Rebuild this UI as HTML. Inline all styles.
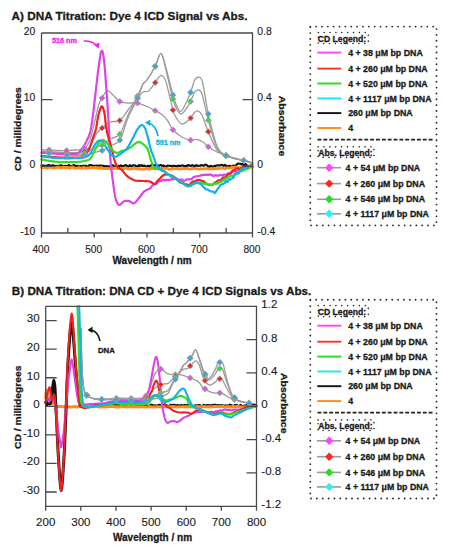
<!DOCTYPE html>
<html><head><meta charset="utf-8"><style>html,body{margin:0;padding:0;background:#fff;width:449px;height:550px;overflow:hidden}svg{display:block}text{font-family:"Liberation Sans",sans-serif}</style></head><body><svg width="449" height="550" viewBox="0 0 449 550">
<rect width="449" height="550" fill="#fff"/>
<path d="M41.50 150.00 C42.75 149.97 46.25 149.72 49.00 149.80 C51.75 149.88 55.05 150.37 58.00 150.50 C60.95 150.63 63.70 150.68 66.70 150.60 C69.70 150.52 73.05 150.38 76.00 150.00 C78.95 149.62 82.07 149.97 84.40 148.30 C86.73 146.63 88.23 144.72 90.00 140.00 C91.77 135.28 93.50 126.00 95.00 120.00 C96.50 114.00 97.82 107.65 99.00 104.00 C100.18 100.35 100.77 100.35 102.10 98.10 C103.43 95.85 105.18 91.02 107.00 90.50 C108.82 89.98 110.87 93.17 113.00 95.00 C115.13 96.83 117.30 100.17 119.80 101.50 C122.30 102.83 125.05 102.73 128.00 103.00 C130.95 103.27 134.50 102.60 137.50 103.10 C140.50 103.60 143.05 104.73 146.00 106.00 C148.95 107.27 152.53 109.28 155.20 110.70 C157.87 112.12 159.95 112.87 162.00 114.50 C164.05 116.13 165.68 117.95 167.50 120.50 C169.32 123.05 170.48 127.05 172.90 129.80 C175.32 132.55 179.05 135.28 182.00 137.00 C184.95 138.72 188.10 139.68 190.60 140.10 C193.10 140.52 194.93 139.18 197.00 139.50 C199.07 139.82 201.12 140.78 203.00 142.00 C204.88 143.22 205.97 145.13 208.30 146.80 C210.63 148.47 214.05 150.53 217.00 152.00 C219.95 153.47 223.00 154.52 226.00 155.60 C229.00 156.68 232.05 157.68 235.00 158.50 C237.95 159.32 240.78 159.75 243.70 160.50 C246.62 161.25 251.03 162.58 252.50 163.00" fill="none" stroke="#9c9c9c" stroke-width="1.3" stroke-linejoin="round" stroke-linecap="round" />
<path d="M41.50 151.50 C42.75 151.50 44.80 151.33 49.00 151.50 C53.20 151.67 60.80 152.50 66.70 152.50 C72.60 152.50 80.18 153.25 84.40 151.50 C88.62 149.75 89.90 145.08 92.00 142.00 C94.10 138.92 95.32 135.32 97.00 133.00 C98.68 130.68 99.93 129.93 102.10 128.10 C104.27 126.27 107.05 123.27 110.00 122.00 C112.95 120.73 116.80 122.50 119.80 120.50 C122.80 118.50 125.05 113.75 128.00 110.00 C130.95 106.25 135.00 101.00 137.50 98.00 C140.00 95.00 141.13 93.17 143.00 92.00 C144.87 90.83 146.67 92.57 148.70 91.00 C150.73 89.43 153.15 85.20 155.20 82.60 C157.25 80.00 159.20 75.50 161.00 75.40 C162.80 75.30 164.02 76.22 166.00 82.00 C167.98 87.78 171.07 103.93 172.90 110.10 C174.73 116.27 175.40 116.68 177.00 119.00 C178.60 121.32 180.23 124.15 182.50 124.00 C184.77 123.85 188.60 120.02 190.60 118.10 C192.60 116.18 193.27 113.68 194.50 112.50 C195.73 111.32 196.75 110.58 198.00 111.00 C199.25 111.42 200.28 111.55 202.00 115.00 C203.72 118.45 205.80 125.87 208.30 131.70 C210.80 137.53 214.05 146.02 217.00 150.00 C219.95 153.98 223.00 154.18 226.00 155.60 C229.00 157.02 232.05 157.68 235.00 158.50 C237.95 159.32 240.78 159.75 243.70 160.50 C246.62 161.25 251.03 162.58 252.50 163.00" fill="none" stroke="#9c9c9c" stroke-width="1.3" stroke-linejoin="round" stroke-linecap="round" />
<path d="M41.50 152.50 C42.75 152.50 44.80 152.25 49.00 152.50 C53.20 152.75 60.80 153.83 66.70 154.00 C72.60 154.17 80.18 154.33 84.40 153.50 C88.62 152.67 89.05 150.38 92.00 149.00 C94.95 147.62 99.10 146.87 102.10 145.20 C105.10 143.53 107.05 140.83 110.00 139.00 C112.95 137.17 116.80 138.20 119.80 134.20 C122.80 130.20 125.05 121.35 128.00 115.00 C130.95 108.65 135.00 101.27 137.50 96.10 C140.00 90.93 141.42 86.68 143.00 84.00 C144.58 81.32 144.97 82.92 147.00 80.00 C149.03 77.08 152.87 70.92 155.20 66.50 C157.53 62.08 159.20 52.92 161.00 53.50 C162.80 54.08 164.02 62.42 166.00 70.00 C167.98 77.58 171.07 92.42 172.90 99.00 C174.73 105.58 175.65 107.00 177.00 109.50 C178.35 112.00 179.67 113.83 181.00 114.00 C182.33 114.17 183.40 112.60 185.00 110.50 C186.60 108.40 189.02 104.40 190.60 101.40 C192.18 98.40 193.23 94.40 194.50 92.50 C195.77 90.60 196.95 89.75 198.20 90.00 C199.45 90.25 200.32 88.97 202.00 94.00 C203.68 99.03 205.80 111.20 208.30 120.20 C210.80 129.20 214.05 142.10 217.00 148.00 C219.95 153.90 223.00 153.85 226.00 155.60 C229.00 157.35 232.05 157.68 235.00 158.50 C237.95 159.32 240.78 159.75 243.70 160.50 C246.62 161.25 251.03 162.58 252.50 163.00" fill="none" stroke="#9c9c9c" stroke-width="1.3" stroke-linejoin="round" stroke-linecap="round" />
<path d="M41.50 153.00 C42.75 153.07 44.80 153.07 49.00 153.40 C53.20 153.73 60.80 154.68 66.70 155.00 C72.60 155.32 80.18 155.63 84.40 155.30 C88.62 154.97 89.05 153.78 92.00 153.00 C94.95 152.22 99.10 151.77 102.10 150.60 C105.10 149.43 107.05 147.73 110.00 146.00 C112.95 144.27 116.80 144.87 119.80 140.20 C122.80 135.53 125.05 124.95 128.00 118.00 C130.95 111.05 135.00 104.17 137.50 98.50 C140.00 92.83 141.42 87.08 143.00 84.00 C144.58 80.92 144.97 82.97 147.00 80.00 C149.03 77.03 152.87 70.65 155.20 66.20 C157.53 61.75 159.20 53.00 161.00 53.30 C162.80 53.60 164.02 61.07 166.00 68.00 C167.98 74.93 171.15 88.65 172.90 94.90 C174.65 101.15 175.27 102.73 176.50 105.50 C177.73 108.27 179.05 111.25 180.30 111.50 C181.55 111.75 182.28 110.18 184.00 107.00 C185.72 103.82 188.85 96.82 190.60 92.40 C192.35 87.98 193.18 83.02 194.50 80.50 C195.82 77.98 197.17 77.05 198.50 77.30 C199.83 77.55 200.87 75.88 202.50 82.00 C204.13 88.12 205.88 103.33 208.30 114.00 C210.72 124.67 214.05 139.07 217.00 146.00 C219.95 152.93 223.00 153.52 226.00 155.60 C229.00 157.68 232.05 157.68 235.00 158.50 C237.95 159.32 240.78 159.75 243.70 160.50 C246.62 161.25 251.03 162.58 252.50 163.00" fill="none" stroke="#9c9c9c" stroke-width="1.3" stroke-linejoin="round" stroke-linecap="round" />
<path d="M41.50 165.38 L42.80 165.87 L44.10 165.59 L45.40 165.97 L46.70 166.00 L48.00 165.10 L49.30 165.02 L50.60 166.34 L51.90 165.41 L53.20 165.37 L54.50 166.59 L55.80 165.75 L57.10 166.34 L58.40 165.76 L59.70 166.02 L61.00 165.24 L62.30 166.02 L63.60 166.39 L64.90 165.84 L66.20 166.19 L67.50 166.07 L68.80 165.10 L70.10 166.21 L71.40 165.95 L72.70 165.48 L74.00 165.05 L75.30 166.38 L76.60 165.76 L77.90 166.15 L79.20 166.41 L80.50 166.14 L81.80 166.47 L83.10 165.63 L84.40 166.28 L85.70 165.71 L87.00 166.50 L88.30 166.41 L89.60 165.16 L90.90 165.22 L92.20 165.35 L93.50 166.54 L94.80 165.70 L96.10 166.00 L97.40 165.48 L98.70 165.81 L100.00 165.62 L101.30 165.56 L102.60 165.94 L103.90 165.93 L105.20 166.45 L106.50 166.09 L107.80 166.49 L109.10 166.37 L110.40 166.59 L111.70 166.07 L113.00 165.26 L114.30 166.38 L115.60 166.54 L116.90 166.45 L118.20 165.91 L119.50 166.14 L120.80 165.34 L122.10 166.33 L123.40 165.92 L124.70 165.46 L126.00 165.10 L127.30 166.37 L128.60 166.58 L129.90 165.14 L131.20 166.28 L132.50 165.66 L133.80 165.24 L135.10 165.47 L136.40 166.23 L137.70 166.40 L139.00 165.07 L140.30 165.98 L141.60 165.07 L142.90 166.15 L144.20 165.53 L145.50 166.41 L146.80 166.57 L148.10 165.81 L149.40 166.60 L150.70 165.50 L152.00 165.12 L153.30 165.96 L154.60 165.05 L155.90 165.32 L157.20 165.65 L158.50 165.98 L159.80 165.25 L161.10 165.07 L162.40 166.39 L163.70 165.50 L165.00 166.53 L166.30 166.43 L167.60 165.60 L168.90 165.74 L170.20 165.83 L171.50 166.03 L172.80 165.95 L174.10 165.89 L175.40 165.99 L176.70 166.50 L178.00 165.81 L179.30 165.69 L180.60 166.15 L181.90 165.38 L183.20 165.48 L184.50 166.56 L185.80 165.83 L187.10 165.88 L188.40 165.02 L189.70 165.66 L191.00 165.93 L192.30 165.03 L193.60 165.99 L194.90 166.01 L196.20 165.10 L197.50 166.00 L198.80 165.75 L200.10 165.69 L201.40 165.01 L202.70 165.53 L204.00 165.64 L205.30 164.66 L206.60 164.95 L207.90 166.19 L209.20 166.89 L210.50 165.92 L211.80 166.33 L213.10 166.51 L214.40 165.94 L215.70 165.79 L217.00 165.45 L218.30 165.30 L219.60 165.47 L220.90 164.89 L222.20 165.02 L223.50 165.77 L224.80 164.77 L226.10 165.89 L227.40 166.41 L228.70 165.94 L230.00 165.93 L231.30 166.88 L232.60 165.89 L233.90 165.63 L235.20 165.78 L236.50 164.74 L237.80 163.56 L239.10 163.77 L240.40 163.73 L241.70 164.59 L243.00 164.12 L244.30 165.02 L245.60 164.07 L246.90 165.54 L248.20 166.04 L249.50 166.42 L250.80 165.72 L252.10 165.36" fill="none" stroke="#111" stroke-width="2.2" stroke-linejoin="round" stroke-linecap="round" />
<path d="M41.50 167.15 L43.00 167.64 L44.50 167.23 L46.00 167.97 L47.50 168.01 L49.00 167.22 L50.50 167.33 L52.00 167.97 L53.50 167.77 L55.00 167.97 L56.50 167.41 L58.00 167.16 L59.50 167.35 L61.00 167.95 L62.50 167.33 L64.00 167.42 L65.50 167.50 L67.00 167.50 L68.50 167.49 L70.00 168.10 L71.50 167.19 L73.00 167.01 L74.50 168.13 L76.00 168.06 L77.50 168.18 L79.00 167.52 L80.50 168.15 L82.00 168.15 L83.50 167.34 L85.00 167.99 L86.50 168.13 L88.00 167.96 L89.50 167.81 L91.00 167.57 L92.50 167.66 L94.00 167.55 L95.50 167.39 L97.00 168.05 L98.50 167.71 L100.00 168.37 L101.50 167.48 L103.00 168.54 L104.50 168.32 L106.00 168.63 L107.50 168.63 L109.00 168.66 L110.50 168.30 L112.00 167.66 L113.50 168.56 L115.00 167.91 L116.50 168.09 L118.00 168.56 L119.50 168.42 L121.00 168.32 L122.50 168.98 L124.00 168.61 L125.50 168.32 L127.00 168.24 L128.50 169.00 L130.00 168.57 L131.50 168.97 L133.00 168.48 L134.50 168.33 L136.00 168.76 L137.50 169.13 L139.00 168.39 L140.50 169.15 L142.00 169.31 L143.50 169.17 L145.00 169.19 L146.50 168.21 L148.00 168.95 L149.50 169.24 L151.00 168.26 L152.50 168.53 L154.00 168.52 L155.50 168.83 L157.00 168.71 L158.50 168.77 L160.00 169.13 L161.50 168.20 L163.00 168.27 L164.50 168.35 L166.00 168.35 L167.50 168.28 L169.00 169.37 L170.50 169.23 L172.00 168.30 L173.50 168.80 L175.00 168.58 L176.50 168.58 L178.00 168.62 L179.50 168.98 L181.00 168.90 L182.50 168.63 L184.00 168.43 L185.50 168.59 L187.00 168.35 L188.50 168.87 L190.00 169.06 L191.50 168.66 L193.00 168.30 L194.50 168.41 L196.00 168.65 L197.50 168.93 L199.00 169.14 L200.50 168.66 L202.00 169.16 L203.50 168.95 L205.00 168.72 L206.50 168.65 L208.00 168.80 L209.50 169.04 L211.00 168.70 L212.50 169.03 L214.00 168.75 L215.50 168.46 L217.00 168.69 L218.50 168.77 L220.00 167.91 L221.50 168.22 L223.00 168.11 L224.50 168.54 L226.00 168.50 L227.50 167.71 L229.00 168.23 L230.50 167.99 L232.00 167.24 L233.50 167.37 L235.00 166.85 L236.50 167.68 L238.00 167.49 L239.50 167.76 L241.00 167.65 L242.50 167.50 L244.00 167.58 L245.50 167.38 L247.00 166.82 L248.50 167.41 L250.00 166.71 L251.50 166.87" fill="none" stroke="#ff8a1a" stroke-width="2.8" stroke-linejoin="round" stroke-linecap="round" />
<path d="M41.50 152.80 L42.63 152.85 L44.22 152.92 L46.08 153.01 L48.07 153.10 L50.00 153.20 L51.58 153.29 L53.22 153.40 L54.91 153.51 L56.61 153.62 L58.32 153.72 L60.00 153.80 L61.69 153.87 L63.41 153.94 L65.12 154.00 L66.81 154.04 L68.45 154.04 L70.00 154.00 L71.76 153.97 L73.45 153.97 L75.05 153.89 L76.57 153.60 L78.00 153.00 L79.34 151.97 L80.60 150.58 L81.77 149.02 L82.84 147.43 L83.80 146.00 L84.78 144.48 L85.56 143.06 L86.26 141.62 L87.00 140.00 L87.65 138.67 L88.30 137.38 L88.95 135.94 L89.59 134.21 L90.20 132.00 L90.50 130.68 L90.79 129.22 L91.09 127.66 L91.37 125.99 L91.66 124.25 L91.94 122.45 L92.21 120.60 L92.48 118.74 L92.74 116.86 L93.00 115.00 L93.21 113.46 L93.40 111.92 L93.59 110.38 L93.77 108.81 L93.95 107.23 L94.12 105.62 L94.30 103.98 L94.49 102.30 L94.67 100.56 L94.87 98.77 L95.08 96.92 L95.30 95.00 L95.48 93.49 L95.66 91.89 L95.85 90.23 L96.04 88.51 L96.24 86.74 L96.44 84.95 L96.65 83.13 L96.86 81.31 L97.07 79.50 L97.28 77.70 L97.48 75.93 L97.69 74.21 L97.90 72.54 L98.10 70.94 L98.30 69.43 L98.50 68.00 L98.81 65.78 L99.12 63.54 L99.43 61.35 L99.74 59.23 L100.04 57.25 L100.35 55.45 L100.64 53.87 L100.94 52.58 L101.22 51.60 L101.50 51.00 L102.03 50.72 L102.52 51.48 L103.00 53.28 L103.49 56.12 L104.00 60.00 L104.13 61.11 L104.26 62.33 L104.39 63.65 L104.52 65.07 L104.66 66.58 L104.80 68.16 L104.94 69.81 L105.08 71.53 L105.22 73.29 L105.36 75.09 L105.49 76.92 L105.63 78.78 L105.77 80.64 L105.91 82.52 L106.04 84.39 L106.18 86.24 L106.31 88.08 L106.43 89.88 L106.56 91.64 L106.68 93.35 L106.80 95.00 L106.92 96.70 L107.04 98.39 L107.16 100.07 L107.27 101.74 L107.39 103.41 L107.50 105.08 L107.61 106.74 L107.71 108.39 L107.82 110.04 L107.93 111.69 L108.03 113.33 L108.13 114.97 L108.23 116.60 L108.33 118.24 L108.43 119.87 L108.52 121.50 L108.62 123.12 L108.71 124.75 L108.81 126.37 L108.90 128.00 L108.99 129.63 L109.07 131.26 L109.15 132.89 L109.22 134.53 L109.30 136.16 L109.36 137.80 L109.43 139.43 L109.49 141.06 L109.56 142.69 L109.63 144.31 L109.69 145.93 L109.76 147.54 L109.83 149.14 L109.91 150.73 L109.99 152.30 L110.08 153.87 L110.17 155.43 L110.27 156.97 L110.38 158.49 L110.50 160.00 L110.65 161.78 L110.82 163.58 L110.99 165.39 L111.18 167.20 L111.38 169.02 L111.58 170.82 L111.79 172.61 L112.01 174.38 L112.22 176.11 L112.43 177.81 L112.65 179.46 L112.86 181.06 L113.06 182.60 L113.26 184.07 L113.45 185.46 L113.63 186.78 L113.80 188.00 L114.17 190.62 L114.49 192.80 L114.78 194.63 L115.07 196.19 L115.35 197.55 L115.66 198.79 L116.00 200.00 L116.94 202.41 L117.97 204.04 L118.90 205.00 L119.93 205.00 L121.00 204.00 L122.45 202.42 L124.30 201.00 L125.95 200.76 L127.83 200.87 L129.60 201.20 L131.10 202.05 L132.49 203.11 L134.00 203.30 L135.30 202.41 L136.69 200.89 L138.09 199.14 L139.40 197.50 L140.57 195.99 L141.65 194.43 L142.73 192.96 L143.90 191.70 L145.45 190.62 L147.10 189.84 L149.30 188.60 L150.51 188.15 L151.85 185.99 L153.31 184.89 L154.85 183.70 L156.44 183.71 L158.07 181.64 L159.70 180.59 L161.34 181.19 L163.01 179.61 L164.72 180.31 L166.47 179.75 L168.26 179.78 L170.11 179.79 L172.00 179.12 L173.52 179.45 L175.09 178.42 L176.69 179.70 L178.33 179.55 L179.98 180.10 L181.64 179.38 L183.30 180.48 L184.96 180.78 L186.60 179.34 L188.22 179.43 L189.81 179.33 L191.40 179.14 L192.99 177.61 L194.59 176.84 L196.21 176.28 L197.86 176.23 L199.56 175.93 L201.30 175.04 L202.94 174.82 L204.66 174.78 L206.43 174.70 L208.24 174.85 L210.06 174.42 L211.86 175.14 L213.63 175.93 L215.34 175.15 L216.97 175.65 L218.50 175.69 L220.50 174.83 L222.35 175.57 L224.07 174.48 L225.73 174.86 L227.35 173.82 L229.00 172.94 L230.70 172.77 L232.25 170.81 L233.83 171.28 L235.43 171.56 L237.02 170.84 L238.59 170.15 L240.12 169.45 L241.60 170.38 L243.00 167.75 L244.86 169.15 L246.73 167.33 L248.52 167.61 L250.14 166.40 L251.50 166.65 L252.50 166.99" fill="none" stroke="#dd44e6" stroke-width="2.2" stroke-linejoin="round" stroke-linecap="round" />
<path d="M41.50 156.00 L42.50 156.09 L43.79 156.20 L45.31 156.34 L47.01 156.50 L48.86 156.66 L50.79 156.84 L52.75 157.00 L54.71 157.16 L56.60 157.30 L58.38 157.41 L60.00 157.50 L61.86 157.57 L63.71 157.61 L65.54 157.63 L67.32 157.63 L69.04 157.62 L70.69 157.59 L72.24 157.56 L73.68 157.53 L75.00 157.50 L77.48 157.49 L79.44 157.50 L81.05 157.38 L82.50 157.00 L84.13 155.96 L85.36 154.54 L86.50 153.00 L87.57 151.67 L88.53 150.22 L89.60 148.00 L90.14 146.61 L90.73 144.94 L91.34 143.08 L91.96 141.16 L92.55 139.27 L93.11 137.51 L93.60 136.00 L94.29 134.06 L94.84 132.62 L95.34 131.12 L95.90 129.00 L96.21 127.55 L96.51 125.87 L96.83 124.03 L97.14 122.11 L97.47 120.17 L97.80 118.29 L98.14 116.54 L98.50 115.00 L99.11 112.67 L99.76 110.40 L100.43 108.42 L101.08 106.97 L101.70 106.30 L102.43 106.72 L103.14 108.23 L103.81 110.45 L104.40 113.00 L104.66 114.43 L104.89 116.10 L105.10 117.94 L105.30 119.86 L105.49 121.80 L105.68 123.68 L105.88 125.44 L106.10 127.00 L106.44 129.08 L106.78 130.85 L107.13 132.48 L107.53 134.14 L108.00 136.00 L108.40 137.47 L108.84 138.99 L109.32 140.56 L109.82 142.17 L110.32 143.82 L110.82 145.50 L111.30 147.20 L111.71 148.77 L112.12 150.45 L112.54 152.18 L112.95 153.92 L113.36 155.63 L113.75 157.24 L114.13 158.71 L114.50 160.00 L115.14 162.04 L115.70 163.58 L116.29 164.84 L117.00 166.00 L118.29 167.40 L119.74 168.53 L121.00 169.50 L122.17 170.49 L123.30 171.60 L124.30 172.90 L125.45 174.46 L127.00 176.00 L128.21 176.91 L129.60 177.86 L131.11 178.77 L132.70 179.58 L134.30 180.20 L135.96 180.58 L137.72 180.78 L139.51 180.86 L141.26 180.91 L142.90 181.00 L144.83 181.10 L146.69 181.16 L148.42 181.26 L150.00 181.50 L151.76 182.52 L153.26 183.54 L154.80 184.13 L156.03 183.41 L157.26 181.14 L158.56 179.86 L160.00 178.69 L161.32 176.94 L162.77 175.58 L164.26 174.68 L165.70 174.71 L167.00 174.26 L168.78 174.83 L170.33 175.49 L172.00 175.61 L173.34 176.39 L174.69 177.51 L176.20 178.50 L178.00 180.41 L179.48 181.50 L181.19 182.57 L183.01 182.63 L184.81 184.47 L186.48 184.35 L187.90 184.88 L189.89 184.89 L191.34 182.60 L193.00 181.39 L194.66 181.81 L196.51 180.31 L198.35 179.91 L200.00 180.12 L201.81 180.93 L203.41 181.15 L205.00 182.75 L206.56 183.87 L208.11 184.79 L210.00 184.57 L211.41 184.72 L212.99 184.54 L214.67 182.77 L216.36 182.00 L218.00 180.43 L219.54 180.30 L221.04 179.97 L222.55 178.03 L224.12 177.38 L225.80 177.33 L227.12 175.13 L228.52 174.29 L229.99 173.80 L231.46 172.69 L232.92 170.37 L234.31 170.48 L235.60 168.57 L237.57 168.27 L239.32 169.16 L241.06 168.06 L243.00 168.50 L244.57 168.71 L246.36 167.49 L248.21 166.57 L249.96 165.26 L251.44 165.27 L252.50 166.25" fill="none" stroke="#ee2222" stroke-width="2.2" stroke-linejoin="round" stroke-linecap="round" />
<path d="M41.50 159.40 L42.63 159.63 L44.22 159.95 L46.08 160.33 L48.07 160.69 L50.00 161.00 L51.52 161.21 L53.04 161.41 L54.59 161.60 L56.24 161.76 L58.03 161.90 L60.00 162.00 L61.48 162.05 L63.11 162.09 L64.85 162.11 L66.65 162.12 L68.47 162.12 L70.26 162.11 L71.97 162.09 L73.57 162.05 L75.00 162.00 L77.23 161.89 L79.16 161.74 L80.88 161.56 L82.46 161.31 L84.00 161.00 L85.80 160.67 L87.41 160.34 L88.92 159.72 L90.40 158.50 L91.26 157.38 L92.10 155.97 L92.94 154.35 L93.75 152.64 L94.54 150.94 L95.29 149.36 L96.00 148.00 L97.13 145.98 L98.15 144.19 L99.09 142.68 L100.00 141.50 L101.68 140.22 L103.20 140.00 L104.62 140.68 L106.00 142.00 L107.32 143.57 L108.90 145.60 L109.99 146.97 L111.23 148.57 L112.51 150.11 L113.70 151.30 L115.70 152.61 L117.70 152.90 L119.29 152.33 L120.97 151.31 L122.50 150.50 L124.24 150.29 L126.00 150.00 L127.56 149.22 L129.28 148.17 L131.00 147.00 L132.27 146.00 L133.56 144.86 L134.82 143.80 L136.00 143.00 L138.00 142.13 L140.00 142.20 L141.67 143.02 L143.44 144.31 L145.00 145.70 L146.19 146.97 L147.15 148.34 L148.00 150.00 L148.56 151.56 L149.04 153.33 L149.50 155.19 L150.00 157.00 L150.57 159.20 L151.17 160.75 L151.76 162.82 L152.30 163.79 L152.79 165.94 L154.00 167.83 L155.09 169.01 L156.42 168.00 L158.01 168.94 L159.86 169.01 L162.00 170.70 L163.10 170.70 L164.33 171.41 L165.65 172.37 L167.04 173.50 L168.48 174.82 L169.94 175.20 L171.40 176.95 L172.85 176.84 L174.24 178.02 L175.57 178.63 L176.80 179.42 L178.59 181.55 L180.28 182.59 L181.88 182.83 L183.43 183.79 L184.93 184.92 L186.41 186.01 L187.90 186.47 L189.61 186.35 L191.26 185.66 L192.88 184.28 L194.48 183.88 L196.08 182.91 L197.70 183.04 L199.36 183.05 L201.06 182.63 L202.76 182.95 L204.42 184.03 L206.01 183.15 L207.50 184.45 L209.47 184.71 L211.22 184.87 L212.94 183.96 L214.80 183.88 L216.42 183.41 L218.09 183.65 L219.81 181.68 L221.58 181.80 L223.40 179.97 L224.96 178.81 L226.58 178.15 L228.23 177.23 L229.89 176.26 L231.55 175.36 L233.20 176.55 L234.84 174.24 L236.48 174.35 L238.12 173.18 L239.76 171.03 L241.38 171.41 L243.00 170.57 L244.71 169.74 L246.54 169.14 L248.36 168.59 L250.05 166.66 L251.47 167.23 L252.50 167.64" fill="none" stroke="#33dd22" stroke-width="2.2" stroke-linejoin="round" stroke-linecap="round" />
<path d="M41.50 156.00 L42.63 156.22 L44.22 156.53 L46.08 156.89 L48.07 157.23 L50.00 157.50 L51.52 157.67 L53.04 157.82 L54.59 157.94 L56.24 158.05 L58.03 158.13 L60.00 158.20 L61.48 158.23 L63.11 158.26 L64.85 158.28 L66.65 158.29 L68.47 158.29 L70.26 158.28 L71.97 158.26 L73.57 158.23 L75.00 158.20 L77.24 158.14 L79.20 158.08 L80.93 157.98 L82.51 157.80 L84.00 157.50 L86.15 156.89 L87.92 156.02 L89.60 154.50 L90.47 153.30 L91.32 151.79 L92.16 150.12 L92.96 148.43 L93.71 146.87 L94.40 145.60 L95.58 143.76 L96.57 142.46 L97.50 141.50 L98.79 140.68 L100.00 140.50 L101.21 140.63 L102.50 141.50 L103.42 142.76 L104.41 144.44 L105.60 146.40 L106.48 147.77 L107.47 149.34 L108.52 150.96 L109.55 152.46 L110.50 153.70 L111.92 155.24 L113.24 156.33 L114.50 156.90 L116.27 156.56 L118.00 155.50 L119.86 154.26 L121.70 152.90 L123.39 151.76 L125.00 150.50 L126.39 149.16 L128.00 147.00 L128.73 145.81 L129.56 144.37 L130.44 142.78 L131.33 141.13 L132.20 139.51 L133.00 138.00 L133.86 136.29 L134.65 134.58 L135.41 132.94 L136.18 131.39 L137.00 130.00 L138.11 128.35 L139.28 126.81 L140.43 125.62 L141.50 125.00 L143.34 125.56 L145.00 128.00 L145.53 129.24 L146.04 130.74 L146.53 132.44 L147.02 134.26 L147.51 136.14 L148.00 138.00 L148.42 139.62 L148.83 141.31 L149.23 143.06 L149.64 144.82 L150.07 147.13 L150.52 148.23 L151.00 150.39 L151.53 151.65 L152.10 152.78 L152.70 154.36 L153.30 156.05 L153.90 157.80 L154.47 159.19 L155.00 161.00 L155.80 163.21 L156.50 164.54 L157.20 165.69 L158.00 167.22 L159.11 167.96 L160.33 169.14 L162.00 170.69 L163.36 171.00 L164.97 171.59 L166.69 173.63 L168.41 174.35 L170.00 174.80 L171.46 175.82 L172.88 177.12 L174.25 178.27 L175.56 178.71 L176.80 179.25 L178.63 180.70 L180.27 182.48 L182.00 182.47 L183.47 183.83 L185.02 184.41 L186.54 185.27 L187.90 185.71 L189.96 185.81 L192.00 184.50 L193.83 183.37 L195.84 182.43 L197.70 182.10 L199.19 183.27 L200.53 183.95 L202.00 185.28 L203.25 186.92 L204.56 187.92 L205.97 189.40 L207.50 189.33 L209.29 190.70 L211.29 191.51 L213.22 191.54 L214.80 193.10 L216.52 190.75 L218.00 188.39 L219.09 187.11 L220.29 185.13 L221.69 184.50 L223.40 183.91 L224.57 183.17 L225.88 180.52 L227.29 182.17 L228.77 179.30 L230.27 179.68 L231.76 178.34 L233.20 178.02 L234.60 173.99 L236.01 173.37 L237.42 172.91 L238.82 173.36 L240.22 170.12 L241.62 169.17 L243.00 169.16 L244.71 167.56 L246.54 167.85 L248.36 166.51 L250.05 165.84 L251.47 165.99 L252.50 164.07" fill="none" stroke="#18aee8" stroke-width="2.2" stroke-linejoin="round" stroke-linecap="round" />
<path d="M49.00 146.90 L51.90 149.80 L49.00 152.70 L46.10 149.80 Z" fill="#dd55ee" stroke="#a0a0a0" stroke-width="1.0"/>
<path d="M66.70 147.70 L69.60 150.60 L66.70 153.50 L63.80 150.60 Z" fill="#dd55ee" stroke="#a0a0a0" stroke-width="1.0"/>
<path d="M84.40 145.40 L87.30 148.30 L84.40 151.20 L81.50 148.30 Z" fill="#dd55ee" stroke="#a0a0a0" stroke-width="1.0"/>
<path d="M102.10 95.20 L105.00 98.10 L102.10 101.00 L99.20 98.10 Z" fill="#dd55ee" stroke="#a0a0a0" stroke-width="1.0"/>
<path d="M119.80 98.60 L122.70 101.50 L119.80 104.40 L116.90 101.50 Z" fill="#dd55ee" stroke="#a0a0a0" stroke-width="1.0"/>
<path d="M137.50 100.20 L140.40 103.10 L137.50 106.00 L134.60 103.10 Z" fill="#dd55ee" stroke="#a0a0a0" stroke-width="1.0"/>
<path d="M155.20 107.80 L158.10 110.70 L155.20 113.60 L152.30 110.70 Z" fill="#dd55ee" stroke="#a0a0a0" stroke-width="1.0"/>
<path d="M172.90 126.90 L175.80 129.80 L172.90 132.70 L170.00 129.80 Z" fill="#dd55ee" stroke="#a0a0a0" stroke-width="1.0"/>
<path d="M190.60 137.20 L193.50 140.10 L190.60 143.00 L187.70 140.10 Z" fill="#dd55ee" stroke="#a0a0a0" stroke-width="1.0"/>
<path d="M208.30 143.90 L211.20 146.80 L208.30 149.70 L205.40 146.80 Z" fill="#dd55ee" stroke="#a0a0a0" stroke-width="1.0"/>
<path d="M226.00 152.70 L228.90 155.60 L226.00 158.50 L223.10 155.60 Z" fill="#dd55ee" stroke="#a0a0a0" stroke-width="1.0"/>
<path d="M243.70 157.60 L246.60 160.50 L243.70 163.40 L240.80 160.50 Z" fill="#dd55ee" stroke="#a0a0a0" stroke-width="1.0"/>
<path d="M49.00 148.60 L51.90 151.50 L49.00 154.40 L46.10 151.50 Z" fill="#ee2222" stroke="#a0a0a0" stroke-width="1.0"/>
<path d="M66.70 149.60 L69.60 152.50 L66.70 155.40 L63.80 152.50 Z" fill="#ee2222" stroke="#a0a0a0" stroke-width="1.0"/>
<path d="M84.40 148.60 L87.30 151.50 L84.40 154.40 L81.50 151.50 Z" fill="#ee2222" stroke="#a0a0a0" stroke-width="1.0"/>
<path d="M102.10 125.20 L105.00 128.10 L102.10 131.00 L99.20 128.10 Z" fill="#ee2222" stroke="#a0a0a0" stroke-width="1.0"/>
<path d="M119.80 117.60 L122.70 120.50 L119.80 123.40 L116.90 120.50 Z" fill="#ee2222" stroke="#a0a0a0" stroke-width="1.0"/>
<path d="M137.50 95.10 L140.40 98.00 L137.50 100.90 L134.60 98.00 Z" fill="#ee2222" stroke="#a0a0a0" stroke-width="1.0"/>
<path d="M155.20 79.70 L158.10 82.60 L155.20 85.50 L152.30 82.60 Z" fill="#ee2222" stroke="#a0a0a0" stroke-width="1.0"/>
<path d="M172.90 107.20 L175.80 110.10 L172.90 113.00 L170.00 110.10 Z" fill="#ee2222" stroke="#a0a0a0" stroke-width="1.0"/>
<path d="M190.60 115.20 L193.50 118.10 L190.60 121.00 L187.70 118.10 Z" fill="#ee2222" stroke="#a0a0a0" stroke-width="1.0"/>
<path d="M208.30 128.80 L211.20 131.70 L208.30 134.60 L205.40 131.70 Z" fill="#ee2222" stroke="#a0a0a0" stroke-width="1.0"/>
<path d="M226.00 152.70 L228.90 155.60 L226.00 158.50 L223.10 155.60 Z" fill="#ee2222" stroke="#a0a0a0" stroke-width="1.0"/>
<path d="M243.70 157.60 L246.60 160.50 L243.70 163.40 L240.80 160.50 Z" fill="#ee2222" stroke="#a0a0a0" stroke-width="1.0"/>
<path d="M49.00 149.60 L51.90 152.50 L49.00 155.40 L46.10 152.50 Z" fill="#33dd33" stroke="#a0a0a0" stroke-width="1.0"/>
<path d="M66.70 151.10 L69.60 154.00 L66.70 156.90 L63.80 154.00 Z" fill="#33dd33" stroke="#a0a0a0" stroke-width="1.0"/>
<path d="M84.40 150.60 L87.30 153.50 L84.40 156.40 L81.50 153.50 Z" fill="#33dd33" stroke="#a0a0a0" stroke-width="1.0"/>
<path d="M102.10 142.30 L105.00 145.20 L102.10 148.10 L99.20 145.20 Z" fill="#33dd33" stroke="#a0a0a0" stroke-width="1.0"/>
<path d="M119.80 131.30 L122.70 134.20 L119.80 137.10 L116.90 134.20 Z" fill="#33dd33" stroke="#a0a0a0" stroke-width="1.0"/>
<path d="M137.50 93.20 L140.40 96.10 L137.50 99.00 L134.60 96.10 Z" fill="#33dd33" stroke="#a0a0a0" stroke-width="1.0"/>
<path d="M155.20 63.60 L158.10 66.50 L155.20 69.40 L152.30 66.50 Z" fill="#33dd33" stroke="#a0a0a0" stroke-width="1.0"/>
<path d="M172.90 96.10 L175.80 99.00 L172.90 101.90 L170.00 99.00 Z" fill="#33dd33" stroke="#a0a0a0" stroke-width="1.0"/>
<path d="M190.60 98.50 L193.50 101.40 L190.60 104.30 L187.70 101.40 Z" fill="#33dd33" stroke="#a0a0a0" stroke-width="1.0"/>
<path d="M208.30 117.30 L211.20 120.20 L208.30 123.10 L205.40 120.20 Z" fill="#33dd33" stroke="#a0a0a0" stroke-width="1.0"/>
<path d="M226.00 152.70 L228.90 155.60 L226.00 158.50 L223.10 155.60 Z" fill="#33dd33" stroke="#a0a0a0" stroke-width="1.0"/>
<path d="M243.70 157.60 L246.60 160.50 L243.70 163.40 L240.80 160.50 Z" fill="#33dd33" stroke="#a0a0a0" stroke-width="1.0"/>
<path d="M49.00 150.50 L51.90 153.40 L49.00 156.30 L46.10 153.40 Z" fill="#33a8e0" stroke="#a0a0a0" stroke-width="1.0"/>
<path d="M66.70 152.10 L69.60 155.00 L66.70 157.90 L63.80 155.00 Z" fill="#33a8e0" stroke="#a0a0a0" stroke-width="1.0"/>
<path d="M84.40 152.40 L87.30 155.30 L84.40 158.20 L81.50 155.30 Z" fill="#33a8e0" stroke="#a0a0a0" stroke-width="1.0"/>
<path d="M102.10 147.70 L105.00 150.60 L102.10 153.50 L99.20 150.60 Z" fill="#33a8e0" stroke="#a0a0a0" stroke-width="1.0"/>
<path d="M119.80 137.30 L122.70 140.20 L119.80 143.10 L116.90 140.20 Z" fill="#33a8e0" stroke="#a0a0a0" stroke-width="1.0"/>
<path d="M137.50 95.60 L140.40 98.50 L137.50 101.40 L134.60 98.50 Z" fill="#33a8e0" stroke="#a0a0a0" stroke-width="1.0"/>
<path d="M155.20 63.30 L158.10 66.20 L155.20 69.10 L152.30 66.20 Z" fill="#33a8e0" stroke="#a0a0a0" stroke-width="1.0"/>
<path d="M172.90 92.00 L175.80 94.90 L172.90 97.80 L170.00 94.90 Z" fill="#33a8e0" stroke="#a0a0a0" stroke-width="1.0"/>
<path d="M190.60 89.50 L193.50 92.40 L190.60 95.30 L187.70 92.40 Z" fill="#33a8e0" stroke="#a0a0a0" stroke-width="1.0"/>
<path d="M208.30 111.10 L211.20 114.00 L208.30 116.90 L205.40 114.00 Z" fill="#33a8e0" stroke="#a0a0a0" stroke-width="1.0"/>
<path d="M226.00 152.70 L228.90 155.60 L226.00 158.50 L223.10 155.60 Z" fill="#33a8e0" stroke="#a0a0a0" stroke-width="1.0"/>
<path d="M243.70 157.60 L246.60 160.50 L243.70 163.40 L240.80 160.50 Z" fill="#33a8e0" stroke="#a0a0a0" stroke-width="1.0"/>
<path d="M41.5 33.0 H252.5 V237.5" fill="none" stroke="#4a4a4a" stroke-width="1.3"/>
<path d="M41.5 33.0 V237.5 H41.5" fill="none" stroke="#4a4a4a" stroke-width="1.3"/>
<path d="M41.5 233.0 H252.5" fill="none" stroke="#4a4a4a" stroke-width="1.3"/>
<path d="M41.50 99.67 h11 M41.50 166.33 h11 M252.50 99.67 h-10 M252.50 166.33 h-10 M94.25 233.00 v4.5 M147.00 233.00 v4.5 M199.75 233.00 v4.5 M67.88 233.00 v-5 M120.62 233.00 v-5 M173.38 233.00 v-5 M226.12 233.00 v-5 " fill="none" stroke="#4a4a4a" stroke-width="1.3"/>
<text x="11.6" y="19.5" font-size="11.75" font-weight="bold" text-anchor="start" fill="#1a1a1a" stroke="#1a1a1a" stroke-width="0.3">A) DNA Titration: Dye 4 ICD Signal vs Abs.</text>
<text x="35.4" y="34.7" font-size="10.4" font-weight="normal" text-anchor="end" fill="#1a1a1a" stroke="#1a1a1a" stroke-width="0.12">20</text>
<text x="35.4" y="101.36666666666669" font-size="10.4" font-weight="normal" text-anchor="end" fill="#1a1a1a" stroke="#1a1a1a" stroke-width="0.12">10</text>
<text x="35.4" y="168.03333333333333" font-size="10.4" font-weight="normal" text-anchor="end" fill="#1a1a1a" stroke="#1a1a1a" stroke-width="0.12">0</text>
<text x="35.4" y="234.7" font-size="10.4" font-weight="normal" text-anchor="end" fill="#1a1a1a" stroke="#1a1a1a" stroke-width="0.12">-10</text>
<text x="257.3" y="34.7" font-size="10.4" font-weight="normal" text-anchor="start" fill="#1a1a1a" stroke="#1a1a1a" stroke-width="0.12">0.8</text>
<text x="257.3" y="101.36666666666669" font-size="10.4" font-weight="normal" text-anchor="start" fill="#1a1a1a" stroke="#1a1a1a" stroke-width="0.12">0.4</text>
<text x="257.3" y="168.03333333333333" font-size="10.4" font-weight="normal" text-anchor="start" fill="#1a1a1a" stroke="#1a1a1a" stroke-width="0.12">0</text>
<text x="257.3" y="234.7" font-size="10.4" font-weight="normal" text-anchor="start" fill="#1a1a1a" stroke="#1a1a1a" stroke-width="0.12">-0.4</text>
<text x="40.9" y="253.3" font-size="10.2" font-weight="normal" text-anchor="middle" fill="#1a1a1a" stroke="#1a1a1a" stroke-width="0.12">400</text>
<text x="93.65" y="253.3" font-size="10.2" font-weight="normal" text-anchor="middle" fill="#1a1a1a" stroke="#1a1a1a" stroke-width="0.12">500</text>
<text x="146.4" y="253.3" font-size="10.2" font-weight="normal" text-anchor="middle" fill="#1a1a1a" stroke="#1a1a1a" stroke-width="0.12">600</text>
<text x="199.15" y="253.3" font-size="10.2" font-weight="normal" text-anchor="middle" fill="#1a1a1a" stroke="#1a1a1a" stroke-width="0.12">700</text>
<text x="251.9" y="253.3" font-size="10.2" font-weight="normal" text-anchor="middle" fill="#1a1a1a" stroke="#1a1a1a" stroke-width="0.12">800</text>
<text x="152.1" y="264" font-size="10" font-weight="bold" text-anchor="middle" fill="#1a1a1a" stroke="#1a1a1a" stroke-width="0.3">Wavelength / nm</text>
<text x="0" y="0" font-size="10.35" font-weight="bold" text-anchor="middle" fill="#1a1a1a" transform="translate(20.9 129.2) rotate(-90) scale(1 0.9)" stroke="#1a1a1a" stroke-width="0.3">CD / millidegrees</text>
<text x="0" y="0" font-size="10.5" font-weight="bold" text-anchor="middle" fill="#1a1a1a" transform="translate(278.5 126) rotate(90) scale(1 0.9)" stroke="#1a1a1a" stroke-width="0.3">Absorbance</text>
<text x="51.9" y="43.2" font-size="7.3" font-weight="bold" text-anchor="start" fill="#f02cf0" stroke="#f02cf0" stroke-width="0.35">516 nm</text>
<path d="M83.8 41.1 C88 40.8 92.5 41.8 96 45" fill="none" stroke="#ee22ee" stroke-width="1.6"/>
<path d="M93.6 44.6 L99.6 42.8 L98.7 48.6 Z" fill="#ee22ee"/>
<text x="155.7" y="145.1" font-size="7.2" font-weight="bold" text-anchor="start" fill="#12b8e2" stroke="#12b8e2" stroke-width="0.35">591 nm</text>
<path d="M158 136 C157 130 154 125 149 123" fill="none" stroke="#12b0e6" stroke-width="1.8"/>
<path d="M145 122.5 L150.5 119.5 L150 126 Z" fill="#12b0e6"/>
<path d="M81.00 329.00 C81.07 332.50 81.23 343.17 81.40 350.00 C81.57 356.83 81.65 363.83 82.00 370.00 C82.35 376.17 82.92 383.00 83.50 387.00 C84.08 391.00 84.75 392.42 85.50 394.00 C86.25 395.58 86.42 395.67 88.00 396.50 C89.58 397.33 92.17 398.50 95.00 399.00 C97.83 399.50 101.51 399.64 105.00 399.50 C108.49 399.36 113.31 398.38 115.97 398.13 C118.63 397.89 119.13 397.99 120.96 398.03 C122.79 398.08 124.99 398.32 126.96 398.38 C128.92 398.45 130.75 398.48 132.75 398.43 C134.75 398.39 136.98 398.32 138.94 398.13 C140.91 397.94 142.99 398.12 144.54 397.28 C146.09 396.45 147.09 395.49 148.27 393.13 C149.45 390.77 150.60 386.13 151.60 383.13 C152.60 380.13 153.48 376.96 154.26 375.13 C155.05 373.31 155.44 373.31 156.33 372.18 C157.22 371.06 158.38 368.64 159.59 368.38 C160.80 368.12 162.17 369.72 163.59 370.63 C165.01 371.55 166.45 373.22 168.12 373.88 C169.78 374.55 171.61 374.50 173.58 374.63 C175.54 374.77 177.91 374.43 179.91 374.68 C181.90 374.93 183.60 375.50 185.57 376.13 C187.53 376.77 189.92 377.78 191.69 378.48 C193.47 379.19 194.86 379.57 196.22 380.38 C197.59 381.20 198.68 382.11 199.89 383.38 C201.10 384.66 201.87 386.66 203.48 388.03 C205.09 389.41 207.58 390.77 209.54 391.63 C211.51 392.49 213.61 392.98 215.27 393.18 C216.94 393.39 218.16 392.73 219.54 392.88 C220.91 393.04 222.28 393.52 223.53 394.13 C224.79 394.74 225.51 395.70 227.06 396.53 C228.62 397.37 230.89 398.40 232.86 399.13 C234.82 399.87 236.85 400.39 238.85 400.93 C240.85 401.48 242.88 401.98 244.84 402.38 C246.81 402.79 248.70 403.01 250.64 403.38 C252.58 403.76 255.52 404.43 256.50 404.63" fill="none" stroke="#9c9c9c" stroke-width="1.3" stroke-linejoin="round" stroke-linecap="round" />
<path d="M81.00 329.00 C81.07 332.50 81.23 343.17 81.40 350.00 C81.57 356.83 81.65 363.83 82.00 370.00 C82.35 376.17 82.92 383.00 83.50 387.00 C84.08 391.00 84.75 392.42 85.50 394.00 C86.25 395.58 86.42 395.67 88.00 396.50 C89.58 397.33 92.17 398.50 95.00 399.00 C97.83 399.50 101.51 399.52 105.00 399.50 C108.49 399.48 113.31 398.99 115.97 398.88 C118.63 398.78 118.16 398.80 120.96 398.88 C123.76 398.97 128.82 399.38 132.75 399.38 C136.68 399.38 141.73 399.76 144.54 398.88 C147.35 398.01 148.20 395.68 149.60 394.13 C151.00 392.59 151.81 390.79 152.93 389.63 C154.05 388.48 154.89 388.10 156.33 387.18 C157.77 386.27 159.63 384.77 161.59 384.13 C163.55 383.50 166.12 384.38 168.12 383.38 C170.12 382.38 171.61 380.01 173.58 378.13 C175.54 376.26 178.24 373.63 179.91 372.13 C181.57 370.63 182.33 369.72 183.57 369.13 C184.81 368.55 186.01 369.42 187.37 368.63 C188.72 367.85 190.33 365.73 191.69 364.43 C193.06 363.13 194.36 360.88 195.56 360.83 C196.76 360.78 197.57 361.24 198.89 364.13 C200.21 367.02 202.26 375.10 203.48 378.18 C204.70 381.27 205.15 381.48 206.21 382.63 C207.28 383.79 208.37 385.21 209.88 385.13 C211.39 385.06 213.94 383.14 215.27 382.18 C216.60 381.23 217.05 379.98 217.87 379.38 C218.69 378.79 219.37 378.43 220.20 378.63 C221.03 378.84 221.72 378.91 222.87 380.63 C224.01 382.36 225.40 386.07 227.06 388.98 C228.73 391.90 230.89 396.14 232.86 398.13 C234.82 400.12 236.85 400.23 238.85 400.93 C240.85 401.64 242.88 401.98 244.84 402.38 C246.81 402.79 248.70 403.01 250.64 403.38 C252.58 403.76 255.52 404.43 256.50 404.63" fill="none" stroke="#9c9c9c" stroke-width="1.3" stroke-linejoin="round" stroke-linecap="round" />
<path d="M81.00 329.00 C81.07 332.50 81.23 343.17 81.40 350.00 C81.57 356.83 81.65 363.83 82.00 370.00 C82.35 376.17 82.92 383.00 83.50 387.00 C84.08 391.00 84.75 392.42 85.50 394.00 C86.25 395.58 86.42 395.67 88.00 396.50 C89.58 397.33 92.17 398.50 95.00 399.00 C97.83 399.50 101.51 399.44 105.00 399.50 C108.49 399.56 113.31 399.40 115.97 399.38 C118.63 399.36 118.16 399.26 120.96 399.38 C123.76 399.51 128.82 400.05 132.75 400.13 C136.68 400.22 141.73 400.30 144.54 399.88 C147.35 399.47 147.64 398.32 149.60 397.63 C151.57 396.94 154.33 396.57 156.33 395.73 C158.33 394.90 159.63 393.55 161.59 392.63 C163.55 391.72 166.12 392.23 168.12 390.23 C170.12 388.23 171.61 383.81 173.58 380.63 C175.54 377.46 178.24 373.77 179.91 371.18 C181.57 368.60 182.51 366.48 183.57 365.13 C184.62 363.79 184.88 364.59 186.23 363.13 C187.59 361.68 190.14 358.59 191.69 356.38 C193.25 354.18 194.36 349.59 195.56 349.88 C196.76 350.18 197.57 354.34 198.89 358.13 C200.21 361.93 202.26 369.34 203.48 372.63 C204.70 375.93 205.32 376.63 206.21 377.88 C207.11 379.13 207.99 380.05 208.88 380.13 C209.77 380.22 210.48 379.43 211.54 378.38 C212.61 377.33 214.22 375.33 215.27 373.83 C216.33 372.33 217.03 370.33 217.87 369.38 C218.71 368.43 219.50 368.01 220.33 368.13 C221.17 368.26 221.74 367.62 222.87 370.13 C223.99 372.65 225.40 378.73 227.06 383.23 C228.73 387.73 230.89 394.18 232.86 397.13 C234.82 400.08 236.85 400.06 238.85 400.93 C240.85 401.81 242.88 401.98 244.84 402.38 C246.81 402.79 248.70 403.01 250.64 403.38 C252.58 403.76 255.52 404.43 256.50 404.63" fill="none" stroke="#9c9c9c" stroke-width="1.3" stroke-linejoin="round" stroke-linecap="round" />
<path d="M81.00 329.00 C81.07 332.50 81.23 343.17 81.40 350.00 C81.57 356.83 81.65 363.83 82.00 370.00 C82.35 376.17 82.92 383.00 83.50 387.00 C84.08 391.00 84.75 392.42 85.50 394.00 C86.25 395.58 86.42 395.67 88.00 396.50 C89.58 397.33 92.17 398.50 95.00 399.00 C97.83 399.50 101.51 399.39 105.00 399.50 C108.49 399.61 113.31 399.58 115.97 399.63 C118.63 399.69 118.16 399.67 120.96 399.83 C123.76 400.00 128.82 400.48 132.75 400.63 C136.68 400.79 141.73 400.95 144.54 400.78 C147.35 400.62 147.64 400.02 149.60 399.63 C151.57 399.24 154.33 399.02 156.33 398.43 C158.33 397.85 159.63 397.00 161.59 396.13 C163.55 395.27 166.12 395.57 168.12 393.23 C170.12 390.90 171.61 385.61 173.58 382.13 C175.54 378.66 178.24 375.22 179.91 372.38 C181.57 369.55 182.51 366.68 183.57 365.13 C184.62 363.59 184.88 364.62 186.23 363.13 C187.59 361.65 190.14 358.46 191.69 356.23 C193.25 354.01 194.36 349.63 195.56 349.78 C196.76 349.93 197.57 353.67 198.89 357.13 C200.21 360.60 202.32 367.46 203.48 370.58 C204.65 373.71 205.06 374.50 205.88 375.88 C206.70 377.27 207.58 378.76 208.41 378.88 C209.24 379.01 209.73 378.22 210.88 376.63 C212.02 375.04 214.11 371.54 215.27 369.33 C216.44 367.13 216.99 364.64 217.87 363.38 C218.75 362.12 219.65 361.66 220.53 361.78 C221.42 361.91 222.11 361.07 223.20 364.13 C224.29 367.19 225.45 374.80 227.06 380.13 C228.67 385.47 230.89 392.67 232.86 396.13 C234.82 399.60 236.85 399.89 238.85 400.93 C240.85 401.98 242.88 401.98 244.84 402.38 C246.81 402.79 248.70 403.01 250.64 403.38 C252.58 403.76 255.52 404.43 256.50 404.63" fill="none" stroke="#9c9c9c" stroke-width="1.3" stroke-linejoin="round" stroke-linecap="round" />
<path d="M81.00 405.23 L82.40 405.38 L83.80 405.89 L85.20 405.25 L86.60 405.31 L88.00 405.42 L89.40 404.86 L90.80 405.32 L92.20 405.48 L93.60 405.71 L95.00 404.73 L96.40 405.02 L97.80 404.73 L99.20 405.73 L100.60 405.57 L102.00 404.66 L103.40 405.98 L104.80 405.95 L106.20 405.52 L107.60 405.46 L109.00 404.82 L110.40 404.62 L111.80 405.34 L113.20 404.68 L114.60 404.87 L116.00 404.94 L117.40 404.64 L118.80 405.25 L120.20 405.22 L121.60 405.78 L123.00 405.33 L124.40 405.50 L125.80 405.30 L127.20 405.53 L128.60 405.24 L130.00 404.99 L131.40 406.00 L132.80 405.99 L134.20 405.78 L135.60 405.59 L137.00 405.04 L138.40 404.92 L139.80 405.00 L141.20 404.70 L142.60 405.67 L144.00 405.16 L145.40 405.79 L146.80 405.14 L148.20 405.94 L149.60 405.79 L151.00 404.60 L152.40 404.89 L153.80 405.87 L155.20 405.26 L156.60 405.97 L158.00 405.16 L159.40 404.70 L160.80 405.48 L162.20 405.69 L163.60 404.98 L165.00 404.72 L166.40 405.07 L167.80 405.95 L169.20 405.66 L170.60 404.77 L172.00 404.94 L173.40 404.74 L174.80 404.68 L176.20 405.72 L177.60 404.85 L179.00 405.38 L180.40 405.23 L181.80 404.87 L183.20 405.62 L184.60 404.78 L186.00 405.50 L187.40 404.76 L188.80 405.19 L190.20 404.90 L191.60 404.98 L193.00 405.96 L194.40 405.72 L195.80 405.03 L197.20 405.84 L198.60 404.89 L200.00 405.15 L201.40 405.80 L202.80 405.50 L204.20 404.74 L205.60 405.99 L207.00 404.90 L208.40 404.96 L209.80 405.68 L211.20 405.06 L212.60 405.01 L214.00 404.70 L215.40 404.73 L216.80 405.42 L218.20 404.94 L219.60 405.44 L221.00 405.12 L222.40 405.23 L223.80 405.94 L225.20 405.28 L226.60 405.40 L228.00 405.81 L229.40 404.86 L230.80 404.82 L232.20 405.87 L233.60 405.74 L235.00 404.95 L236.40 404.87 L237.80 405.64 L239.20 405.92 L240.60 404.88 L242.00 405.93 L243.40 405.84 L244.80 405.44 L246.20 405.19 L247.60 404.75 L249.00 404.65 L250.40 405.95 L251.80 404.93 L253.20 405.59 L254.60 404.96 L256.00 405.75" fill="none" stroke="#111" stroke-width="2.0" stroke-linejoin="round" stroke-linecap="round" />
<path d="M45.70 398.00 L46.50 390.00 L48.00 395.00 L50.00 402.00 L52.00 404.00 L53.50 399.00 L55.00 404.00 L56.50 406.60 L57.00 406.76 L59.00 406.58 L61.00 406.51 L63.00 406.83 L65.00 406.44 L67.00 406.54 L69.00 406.74 L71.00 406.91 L73.00 406.77 L75.00 406.57 L77.00 406.95 L79.00 406.52 L81.00 406.41 L83.00 406.56 L85.00 406.67 L87.00 406.44 L89.00 406.51 L91.00 406.62 L93.00 406.74 L95.00 406.48 L97.00 406.62 L99.00 406.93 L101.00 406.99 L103.00 406.79 L105.00 406.81 L107.00 406.75 L109.00 406.48 L111.00 406.42 L113.00 406.41 L115.00 406.95 L117.00 406.82 L119.00 406.98 L121.00 406.41 L123.00 406.78 L125.00 406.69 L127.00 406.84 L129.00 406.59 L131.00 407.00 L133.00 406.45 L135.00 406.73 L137.00 406.84 L139.00 406.94 L141.00 406.84 L143.00 406.82 L145.00 406.88 L147.00 406.95 L149.00 406.61 L151.00 406.81 L153.00 406.94 L155.00 406.92 L157.00 406.65 L159.00 406.87 L161.00 406.92 L163.00 406.74 L165.00 406.77 L167.00 406.63 L169.00 406.75 L171.00 406.77 L173.00 406.45 L175.00 406.78 L177.00 407.00 L179.00 406.93 L181.00 406.84 L183.00 406.63 L185.00 406.84 L187.00 406.75 L189.00 406.66 L191.00 406.90 L193.00 406.45 L195.00 406.85 L197.00 406.42 L199.00 406.76 L201.00 406.69 L203.00 406.54 L205.00 406.82 L207.00 406.70 L209.00 406.77 L211.00 406.95 L213.00 406.55 L215.00 406.41 L217.00 406.58 L219.00 406.81 L221.00 406.52 L223.00 406.50 L225.00 406.94 L227.00 406.80 L229.00 406.67 L231.00 406.94 L233.00 406.60 L235.00 406.80 L237.00 406.52 L239.00 406.66 L241.00 406.88 L243.00 406.95 L245.00 406.93 L247.00 406.63 L249.00 406.75 L251.00 406.59 L253.00 406.48 L255.00 406.70" fill="none" stroke="#ff8a1a" stroke-width="3.0" stroke-linejoin="round" stroke-linecap="round" />
<path d="M45.70 402.00 C45.92 402.50 46.53 405.33 47.00 405.00 C47.47 404.67 48.00 400.17 48.50 400.00 C49.00 399.83 49.50 404.17 50.00 404.00 C50.50 403.83 51.07 401.67 51.50 399.00 C51.93 396.33 52.22 391.17 52.60 388.00 C52.98 384.83 53.40 380.00 53.80 380.00 C54.20 380.00 54.70 384.33 55.00 388.00 C55.30 391.67 55.33 396.67 55.60 402.00 C55.87 407.33 56.20 412.00 56.60 420.00 C57.00 428.00 57.47 440.33 58.00 450.00 C58.53 459.67 59.37 471.83 59.80 478.00 C60.23 484.17 60.37 484.92 60.60 487.00 C60.83 489.08 61.00 490.50 61.20 490.50 C61.40 490.50 61.57 489.08 61.80 487.00 C62.03 484.92 62.17 484.17 62.60 478.00 C63.03 471.83 63.90 459.67 64.40 450.00 C64.90 440.33 65.27 428.00 65.60 420.00 C65.93 412.00 66.07 410.33 66.40 402.00 C66.73 393.67 67.08 380.33 67.60 370.00 C68.12 359.67 68.93 347.50 69.50 340.00 C70.07 332.50 70.63 328.00 71.00 325.00 C71.37 322.00 71.47 322.00 71.70 322.00 C71.93 322.00 72.02 321.17 72.40 325.00 C72.78 328.83 73.40 337.17 74.00 345.00 C74.60 352.83 75.33 364.17 76.00 372.00 C76.67 379.83 77.42 386.83 78.00 392.00 C78.58 397.17 79.00 400.67 79.50 403.00 C80.00 405.33 80.75 405.50 81.00 406.00" fill="none" stroke="#111" stroke-width="3.0" stroke-linejoin="round" stroke-linecap="round" />
<path d="M45.70 393.00 C45.92 393.67 46.45 395.50 47.00 397.00 C47.55 398.50 48.33 401.83 49.00 402.00 C49.67 402.17 50.33 398.33 51.00 398.00 C51.67 397.67 52.33 399.00 53.00 400.00 C53.67 401.00 54.42 401.50 55.00 404.00 C55.58 406.50 55.92 410.33 56.50 415.00 C57.08 419.67 57.85 427.17 58.50 432.00 C59.15 436.83 59.97 441.43 60.40 444.00 C60.83 446.57 60.87 447.40 61.10 447.40 C61.33 447.40 61.37 446.57 61.80 444.00 C62.23 441.43 63.07 437.33 63.70 432.00 C64.33 426.67 65.12 417.33 65.60 412.00 C66.08 406.67 66.15 405.00 66.60 400.00 C67.05 395.00 67.63 388.00 68.30 382.00 C68.97 376.00 70.03 367.77 70.60 364.00 C71.17 360.23 71.33 359.40 71.70 359.40 C72.07 359.40 72.25 360.57 72.80 364.00 C73.35 367.43 74.30 375.00 75.00 380.00 C75.70 385.00 76.33 390.17 77.00 394.00 C77.67 397.83 78.17 401.25 79.00 403.00 C79.83 404.75 80.83 404.25 82.00 404.50 C83.17 404.75 83.83 404.62 86.00 404.50 C88.17 404.38 91.83 404.05 95.00 403.80 C98.17 403.55 103.33 403.13 105.00 403.00 L115.97 400.50 L117.40 400.54 L119.46 400.60 L121.63 400.67 L123.22 400.73 L124.90 400.81 L126.60 400.87 L128.29 400.93 L129.98 400.97 L131.70 401.01 L133.38 401.03 L134.95 401.01 L136.88 401.00 L138.66 400.94 L140.28 400.59 L141.74 399.76 L143.03 398.65 L144.14 397.59 L145.31 396.33 L146.27 395.01 L147.35 393.59 L148.40 391.59 L148.90 390.07 L149.37 388.26 L149.83 386.30 L150.27 384.30 L150.59 382.72 L150.88 381.11 L151.16 379.43 L151.46 377.66 L151.80 375.73 L152.07 374.20 L152.37 372.52 L152.68 370.75 L153.00 368.97 L153.31 367.24 L153.63 365.61 L153.93 364.16 L154.45 361.77 L154.96 359.55 L155.46 357.81 L155.93 356.87 L156.77 357.41 L157.59 360.73 L157.79 361.91 L158.00 363.33 L158.22 364.93 L158.43 366.68 L158.65 368.51 L158.86 370.38 L159.07 372.24 L159.27 374.04 L159.46 375.73 L159.66 377.54 L159.85 379.33 L160.03 381.11 L160.21 382.88 L160.38 384.64 L160.54 386.39 L160.70 388.13 L160.86 389.87 L161.00 391.62 L161.12 393.37 L161.23 395.12 L161.34 396.86 L161.46 398.59 L161.58 400.29 L161.74 401.96 L161.92 403.59 L162.18 405.45 L162.49 407.34 L162.82 409.21 L163.17 411.01 L163.51 412.71 L163.84 414.25 L164.12 415.59 L164.65 417.92 L165.09 419.49 L165.59 420.73 L166.56 422.15 L167.52 422.87 L168.20 422.87 L168.92 422.44 L169.88 421.77 L171.11 421.16 L172.83 421.06 L174.64 421.24 L176.11 421.85 L177.57 422.14 L179.37 421.11 L181.17 419.66 L182.67 418.34 L184.17 417.47 L185.72 416.86 L187.77 416.03 L189.23 415.54 L190.94 414.06 L192.79 413.09 L194.69 412.67 L196.22 412.16 L197.80 411.84 L199.44 411.84 L201.13 411.91 L202.88 411.72 L204.42 411.58 L206.01 412.16 L207.65 412.44 L209.31 412.10 L210.97 411.83 L212.61 411.74 L214.22 412.27 L215.81 411.17 L217.40 411.34 L219.01 410.79 L220.67 410.18 L222.40 410.36 L223.98 409.57 L225.65 409.65 L227.37 409.97 L229.09 409.64 L230.78 410.41 L232.38 409.90 L233.85 409.78 L235.69 409.56 L237.34 409.91 L238.89 409.53 L240.40 409.45 L241.98 409.21 L243.64 409.06 L245.34 408.86 L247.03 408.26 L248.65 407.49 L250.17 407.42 L252.03 406.78 L253.85 406.26 L255.41 406.36 L256.50 406.35" fill="none" stroke="#dd44e6" stroke-width="2.1" stroke-linejoin="round" stroke-linecap="round" />
<path d="M45.70 402.00 C45.92 400.83 46.53 397.00 47.00 395.00 C47.47 393.00 48.05 391.25 48.50 390.00 C48.95 388.75 49.28 386.67 49.70 387.50 C50.12 388.33 50.57 392.92 51.00 395.00 C51.43 397.08 51.77 400.08 52.30 400.00 C52.83 399.92 53.72 394.17 54.20 394.50 C54.68 394.83 54.83 397.75 55.20 402.00 C55.57 406.25 55.95 412.00 56.40 420.00 C56.85 428.00 57.35 440.33 57.90 450.00 C58.45 459.67 59.27 471.83 59.70 478.00 C60.13 484.17 60.27 484.83 60.50 487.00 C60.73 489.17 60.90 491.00 61.10 491.00 C61.30 491.00 61.47 489.17 61.70 487.00 C61.93 484.83 62.07 484.17 62.50 478.00 C62.93 471.83 63.82 459.67 64.30 450.00 C64.78 440.33 65.08 428.00 65.40 420.00 C65.72 412.00 65.88 410.33 66.20 402.00 C66.52 393.67 66.78 381.17 67.30 370.00 C67.82 358.83 68.70 343.67 69.30 335.00 C69.90 326.33 70.50 321.58 70.90 318.00 C71.30 314.42 71.43 313.50 71.70 313.50 C71.97 313.50 72.08 313.25 72.50 318.00 C72.92 322.75 73.58 333.33 74.20 342.00 C74.82 350.67 75.53 361.50 76.20 370.00 C76.87 378.50 77.65 387.58 78.20 393.00 C78.75 398.42 79.03 400.25 79.50 402.50 C79.97 404.75 80.25 405.58 81.00 406.50 C81.75 407.42 82.83 407.83 84.00 408.00 C85.17 408.17 86.17 407.83 88.00 407.50 C89.83 407.17 92.17 406.50 95.00 406.00 C97.83 405.50 103.33 404.75 105.00 404.50 L115.97 401.87 L117.10 401.94 L118.66 402.03 L120.51 402.14 L122.52 402.25 L124.58 402.36 L126.54 402.45 L128.29 402.51 L130.15 402.55 L131.98 402.57 L133.74 402.57 L135.41 402.55 L136.93 402.53 L138.28 402.51 L140.40 402.51 L141.97 402.49 L143.27 402.30 L144.79 401.56 L145.94 400.59 L146.97 399.73 L148.00 398.44 L148.89 396.87 L149.84 394.97 L150.67 393.30 L151.49 391.85 L152.20 390.30 L152.75 388.44 L153.32 386.24 L153.93 384.30 L154.99 381.88 L156.06 380.57 L157.02 381.40 L157.86 383.44 L158.28 385.29 L158.63 387.49 L158.99 389.44 L159.56 391.45 L160.26 393.30 L160.92 394.80 L161.69 396.41 L162.46 398.10 L163.19 399.99 L163.91 401.95 L164.59 403.59 L165.39 405.12 L166.25 406.16 L167.59 407.01 L168.92 407.66 L169.69 408.08 L170.45 408.56 L171.47 409.44 L172.91 410.44 L174.32 411.10 L176.00 411.75 L177.77 412.24 L179.66 412.47 L181.64 412.53 L183.50 412.30 L186.03 412.45 L188.23 412.66 L189.91 413.64 L191.43 413.80 L193.07 412.81 L194.89 411.53 L196.41 410.48 L198.05 410.20 L199.55 409.95 L201.26 409.43 L202.88 410.83 L204.68 411.44 L206.88 411.87 L208.42 412.74 L210.21 413.55 L211.99 414.37 L213.47 414.19 L215.29 413.90 L216.87 413.36 L219.21 412.69 L221.53 412.56 L223.28 412.66 L224.86 413.58 L226.40 413.79 L228.19 414.50 L229.83 414.22 L231.68 413.40 L233.52 412.78 L235.21 411.73 L236.89 411.73 L238.72 411.05 L240.29 410.28 L242.00 408.99 L243.69 408.37 L245.24 407.32 L246.95 407.52 L248.49 407.42 L250.17 406.88 L252.41 406.35 L254.81 406.34 L256.50 406.20" fill="none" stroke="#ee2222" stroke-width="2.1" stroke-linejoin="round" stroke-linecap="round" />
<path d="M77.40 306.30 C77.58 311.92 78.15 327.72 78.50 340.00 C78.85 352.28 79.17 370.33 79.50 380.00 C79.83 389.67 80.08 393.92 80.50 398.00 C80.92 402.08 81.25 403.03 82.00 404.50 C82.75 405.97 83.83 406.35 85.00 406.80 C86.17 407.25 87.33 407.30 89.00 407.20 C90.67 407.10 92.33 406.57 95.00 406.20 C97.67 405.83 103.33 405.20 105.00 405.00 L115.97 403.33 L117.40 403.52 L119.46 403.78 L121.63 404.01 L123.14 404.15 L124.69 404.27 L126.37 404.37 L128.29 404.44 L129.81 404.47 L131.52 404.49 L133.33 404.50 L135.12 404.49 L136.81 404.47 L138.28 404.44 L140.64 404.36 L142.55 404.22 L144.27 404.01 L146.55 403.73 L148.54 402.94 L149.86 401.63 L151.12 399.94 L152.27 398.44 L153.70 396.81 L154.93 395.66 L156.05 395.11 L157.06 395.01 L158.01 395.31 L158.93 395.87 L159.81 396.54 L160.86 397.41 L162.41 398.69 L164.05 399.86 L165.39 400.42 L166.72 400.54 L168.34 400.08 L169.92 399.51 L171.07 399.42 L172.25 399.30 L173.85 398.75 L175.58 398.01 L177.28 397.10 L178.91 396.30 L180.24 395.93 L181.57 395.96 L183.28 396.81 L184.90 397.45 L186.03 397.86 L186.90 399.58 L187.59 400.34 L188.23 402.57 L189.01 403.59 L189.76 405.15 L190.09 406.54 L190.90 406.69 L192.19 406.96 L193.96 407.48 L196.22 408.20 L197.63 408.83 L199.27 409.38 L201.02 410.38 L202.81 410.76 L204.53 411.92 L206.08 411.78 L208.12 412.75 L209.99 413.81 L211.74 414.21 L213.47 414.93 L215.17 414.76 L216.79 414.24 L218.39 414.04 L220.00 413.50 L221.67 413.27 L223.37 413.48 L225.01 414.07 L226.53 414.23 L228.24 413.68 L229.77 414.26 L231.39 414.21 L233.21 413.39 L235.12 412.85 L237.12 411.89 L238.69 411.71 L240.33 411.16 L242.00 410.72 L243.65 409.67 L245.28 409.99 L246.92 409.05 L248.55 408.42 L250.17 408.27 L251.92 407.53 L253.74 406.94 L255.37 406.65 L256.50 405.77" fill="none" stroke="#33dd22" stroke-width="2.1" stroke-linejoin="round" stroke-linecap="round" />
<path d="M79.20 306.30 C79.37 311.92 79.87 327.72 80.20 340.00 C80.53 352.28 80.87 370.33 81.20 380.00 C81.53 389.67 81.82 393.92 82.20 398.00 C82.58 402.08 82.87 403.03 83.50 404.50 C84.13 405.97 84.92 406.33 86.00 406.80 C87.08 407.27 88.33 407.43 90.00 407.30 C91.67 407.17 93.50 406.47 96.00 406.00 C98.50 405.53 103.50 404.75 105.00 404.50 L115.97 401.87 L117.40 402.05 L119.46 402.30 L121.63 402.51 L123.14 402.62 L124.69 402.70 L126.37 402.77 L128.29 402.81 L129.81 402.84 L131.52 402.85 L133.33 402.85 L135.12 402.85 L136.81 402.84 L138.28 402.81 L140.66 402.77 L142.59 402.70 L144.27 402.51 L146.31 402.09 L148.00 401.23 L149.15 400.07 L150.24 398.63 L151.20 397.41 L152.33 396.32 L153.26 395.66 L154.12 395.31 L154.93 395.23 L155.74 395.28 L156.59 395.66 L157.53 396.54 L158.66 397.76 L160.25 399.37 L161.92 400.89 L163.31 401.80 L164.59 402.26 L165.77 402.11 L166.92 401.66 L168.16 401.13 L169.38 400.54 L170.51 400.05 L171.58 399.51 L172.51 398.94 L173.58 398.01 L174.61 396.89 L175.80 395.50 L176.91 394.16 L178.26 392.34 L179.57 390.73 L181.09 389.36 L182.57 388.59 L183.80 388.86 L184.90 389.79 L185.92 392.18 L186.90 394.54 L187.54 395.62 L188.18 397.56 L188.90 398.96 L189.76 400.92 L190.70 402.90 L191.56 404.37 L192.56 405.49 L193.56 406.42 L194.68 407.05 L196.22 408.11 L197.83 409.00 L199.74 408.98 L201.55 410.27 L203.16 410.32 L204.68 411.23 L206.08 411.91 L207.85 413.02 L209.54 413.28 L211.56 414.11 L213.47 414.92 L214.85 414.35 L216.20 414.51 L218.09 413.32 L220.00 413.28 L221.44 413.60 L222.87 414.46 L224.57 415.64 L226.53 416.39 L228.16 416.82 L229.93 417.26 L231.39 417.50 L232.54 416.64 L233.52 415.75 L235.05 415.13 L237.12 413.91 L238.54 413.09 L240.20 412.58 L241.95 411.53 L243.65 410.94 L245.28 409.54 L246.92 409.14 L248.55 408.40 L250.17 407.81 L251.92 406.74 L253.74 406.31 L255.37 406.52 L256.50 405.65" fill="none" stroke="#18aee8" stroke-width="2.1" stroke-linejoin="round" stroke-linecap="round" />
<path d="M86.80 392.40 L89.70 395.30 L86.80 398.20 L83.90 395.30 Z" fill="#dd55ee" stroke="#a0a0a0" stroke-width="1.0"/>
<path d="M101.57 396.43 L104.47 399.33 L101.57 402.23 L98.67 399.33 Z" fill="#dd55ee" stroke="#a0a0a0" stroke-width="1.0"/>
<path d="M116.34 395.23 L119.24 398.13 L116.34 401.03 L113.44 398.13 Z" fill="#dd55ee" stroke="#a0a0a0" stroke-width="1.0"/>
<path d="M131.11 395.52 L134.01 398.42 L131.11 401.32 L128.21 398.42 Z" fill="#dd55ee" stroke="#a0a0a0" stroke-width="1.0"/>
<path d="M145.88 392.89 L148.78 395.79 L145.88 398.69 L142.98 395.79 Z" fill="#dd55ee" stroke="#a0a0a0" stroke-width="1.0"/>
<path d="M160.65 366.08 L163.55 368.98 L160.65 371.88 L157.75 368.98 Z" fill="#dd55ee" stroke="#a0a0a0" stroke-width="1.0"/>
<path d="M175.42 371.75 L178.32 374.65 L175.42 377.55 L172.52 374.65 Z" fill="#dd55ee" stroke="#a0a0a0" stroke-width="1.0"/>
<path d="M190.19 375.01 L193.09 377.91 L190.19 380.81 L187.29 377.91 Z" fill="#dd55ee" stroke="#a0a0a0" stroke-width="1.0"/>
<path d="M204.96 386.01 L207.86 388.91 L204.96 391.81 L202.06 388.91 Z" fill="#dd55ee" stroke="#a0a0a0" stroke-width="1.0"/>
<path d="M219.73 390.04 L222.63 392.94 L219.73 395.84 L216.83 392.94 Z" fill="#dd55ee" stroke="#a0a0a0" stroke-width="1.0"/>
<path d="M234.50 396.73 L237.40 399.63 L234.50 402.53 L231.60 399.63 Z" fill="#dd55ee" stroke="#a0a0a0" stroke-width="1.0"/>
<path d="M249.27 400.25 L252.17 403.15 L249.27 406.05 L246.37 403.15 Z" fill="#dd55ee" stroke="#a0a0a0" stroke-width="1.0"/>
<path d="M86.80 392.40 L89.70 395.30 L86.80 398.20 L83.90 395.30 Z" fill="#ee2222" stroke="#a0a0a0" stroke-width="1.0"/>
<path d="M101.57 396.43 L104.47 399.33 L101.57 402.23 L98.67 399.33 Z" fill="#ee2222" stroke="#a0a0a0" stroke-width="1.0"/>
<path d="M116.34 395.98 L119.24 398.88 L116.34 401.78 L113.44 398.88 Z" fill="#ee2222" stroke="#a0a0a0" stroke-width="1.0"/>
<path d="M131.11 396.41 L134.01 399.31 L131.11 402.21 L128.21 399.31 Z" fill="#ee2222" stroke="#a0a0a0" stroke-width="1.0"/>
<path d="M145.88 394.73 L148.78 397.63 L145.88 400.53 L142.98 397.63 Z" fill="#ee2222" stroke="#a0a0a0" stroke-width="1.0"/>
<path d="M160.65 381.78 L163.55 384.68 L160.65 387.58 L157.75 384.68 Z" fill="#ee2222" stroke="#a0a0a0" stroke-width="1.0"/>
<path d="M175.42 373.49 L178.32 376.39 L175.42 379.29 L172.52 376.39 Z" fill="#ee2222" stroke="#a0a0a0" stroke-width="1.0"/>
<path d="M190.19 362.99 L193.09 365.89 L190.19 368.79 L187.29 365.89 Z" fill="#ee2222" stroke="#a0a0a0" stroke-width="1.0"/>
<path d="M204.96 377.69 L207.86 380.59 L204.96 383.49 L202.06 380.59 Z" fill="#ee2222" stroke="#a0a0a0" stroke-width="1.0"/>
<path d="M219.73 375.88 L222.63 378.78 L219.73 381.68 L216.83 378.78 Z" fill="#ee2222" stroke="#a0a0a0" stroke-width="1.0"/>
<path d="M234.50 396.00 L237.40 398.90 L234.50 401.80 L231.60 398.90 Z" fill="#ee2222" stroke="#a0a0a0" stroke-width="1.0"/>
<path d="M249.27 400.25 L252.17 403.15 L249.27 406.05 L246.37 403.15 Z" fill="#ee2222" stroke="#a0a0a0" stroke-width="1.0"/>
<path d="M86.80 392.40 L89.70 395.30 L86.80 398.20 L83.90 395.30 Z" fill="#33dd33" stroke="#a0a0a0" stroke-width="1.0"/>
<path d="M101.57 396.43 L104.47 399.33 L101.57 402.23 L98.67 399.33 Z" fill="#33dd33" stroke="#a0a0a0" stroke-width="1.0"/>
<path d="M116.34 396.48 L119.24 399.38 L116.34 402.28 L113.44 399.38 Z" fill="#33dd33" stroke="#a0a0a0" stroke-width="1.0"/>
<path d="M131.11 397.13 L134.01 400.03 L131.11 402.93 L128.21 400.03 Z" fill="#33dd33" stroke="#a0a0a0" stroke-width="1.0"/>
<path d="M145.88 396.39 L148.78 399.29 L145.88 402.19 L142.98 399.29 Z" fill="#33dd33" stroke="#a0a0a0" stroke-width="1.0"/>
<path d="M160.65 390.29 L163.55 393.19 L160.65 396.09 L157.75 393.19 Z" fill="#33dd33" stroke="#a0a0a0" stroke-width="1.0"/>
<path d="M175.42 374.98 L178.32 377.88 L175.42 380.78 L172.52 377.88 Z" fill="#33dd33" stroke="#a0a0a0" stroke-width="1.0"/>
<path d="M190.19 355.34 L193.09 358.24 L190.19 361.14 L187.29 358.24 Z" fill="#33dd33" stroke="#a0a0a0" stroke-width="1.0"/>
<path d="M204.96 372.57 L207.86 375.47 L204.96 378.37 L202.06 375.47 Z" fill="#33dd33" stroke="#a0a0a0" stroke-width="1.0"/>
<path d="M219.73 365.54 L222.63 368.44 L219.73 371.34 L216.83 368.44 Z" fill="#33dd33" stroke="#a0a0a0" stroke-width="1.0"/>
<path d="M234.50 395.28 L237.40 398.18 L234.50 401.08 L231.60 398.18 Z" fill="#33dd33" stroke="#a0a0a0" stroke-width="1.0"/>
<path d="M249.27 400.25 L252.17 403.15 L249.27 406.05 L246.37 403.15 Z" fill="#33dd33" stroke="#a0a0a0" stroke-width="1.0"/>
<path d="M86.80 392.40 L89.70 395.30 L86.80 398.20 L83.90 395.30 Z" fill="#33a8e0" stroke="#a0a0a0" stroke-width="1.0"/>
<path d="M101.57 396.43 L104.47 399.33 L101.57 402.23 L98.67 399.33 Z" fill="#33a8e0" stroke="#a0a0a0" stroke-width="1.0"/>
<path d="M116.34 396.75 L119.24 399.65 L116.34 402.55 L113.44 399.65 Z" fill="#33a8e0" stroke="#a0a0a0" stroke-width="1.0"/>
<path d="M131.11 397.62 L134.01 400.52 L131.11 403.42 L128.21 400.52 Z" fill="#33a8e0" stroke="#a0a0a0" stroke-width="1.0"/>
<path d="M145.88 397.58 L148.78 400.48 L145.88 403.38 L142.98 400.48 Z" fill="#33a8e0" stroke="#a0a0a0" stroke-width="1.0"/>
<path d="M160.65 393.64 L163.55 396.54 L160.65 399.44 L157.75 396.54 Z" fill="#33a8e0" stroke="#a0a0a0" stroke-width="1.0"/>
<path d="M175.42 376.40 L178.32 379.30 L175.42 382.20 L172.52 379.30 Z" fill="#33a8e0" stroke="#a0a0a0" stroke-width="1.0"/>
<path d="M190.19 355.23 L193.09 358.13 L190.19 361.03 L187.29 358.13 Z" fill="#33a8e0" stroke="#a0a0a0" stroke-width="1.0"/>
<path d="M204.96 370.95 L207.86 373.85 L204.96 376.75 L202.06 373.85 Z" fill="#33a8e0" stroke="#a0a0a0" stroke-width="1.0"/>
<path d="M219.73 359.37 L222.63 362.27 L219.73 365.17 L216.83 362.27 Z" fill="#33a8e0" stroke="#a0a0a0" stroke-width="1.0"/>
<path d="M234.50 394.55 L237.40 397.45 L234.50 400.35 L231.60 397.45 Z" fill="#33a8e0" stroke="#a0a0a0" stroke-width="1.0"/>
<path d="M249.27 400.25 L252.17 403.15 L249.27 406.05 L246.37 403.15 Z" fill="#33a8e0" stroke="#a0a0a0" stroke-width="1.0"/>
<path d="M45.7 306.3 H256.5 V510.8" fill="none" stroke="#4a4a4a" stroke-width="1.3"/>
<path d="M45.7 306.3 V510.8 H45.7" fill="none" stroke="#4a4a4a" stroke-width="1.3"/>
<path d="M45.7 506.3 H256.5" fill="none" stroke="#4a4a4a" stroke-width="1.3"/>
<path d="M45.70 320.59 h11 M45.70 349.16 h11 M45.70 377.73 h11 M45.70 406.30 h11 M45.70 434.87 h11 M45.70 463.44 h11 M45.70 492.01 h11 M256.50 339.63 h-10 M256.50 372.97 h-10 M256.50 406.30 h-10 M256.50 439.63 h-10 M256.50 472.97 h-10 M80.83 506.30 v4.5 M115.97 506.30 v4.5 M151.10 506.30 v4.5 M186.23 506.30 v4.5 M221.37 506.30 v4.5 " fill="none" stroke="#4a4a4a" stroke-width="1.3"/>
<text x="11.8" y="294.5" font-size="11.7" font-weight="bold" text-anchor="start" fill="#1a1a1a" stroke="#1a1a1a" stroke-width="0.3">B) DNA Titration: DNA CD + Dye 4 ICD Signals vs Abs.</text>
<text x="39.6" y="322.48571428571427" font-size="11.5" font-weight="normal" text-anchor="end" fill="#1a1a1a" stroke="#1a1a1a" stroke-width="0.12">30</text>
<text x="39.6" y="351.0571428571428" font-size="11.5" font-weight="normal" text-anchor="end" fill="#1a1a1a" stroke="#1a1a1a" stroke-width="0.12">20</text>
<text x="39.6" y="379.6285714285714" font-size="11.5" font-weight="normal" text-anchor="end" fill="#1a1a1a" stroke="#1a1a1a" stroke-width="0.12">10</text>
<text x="39.6" y="408.2" font-size="11.5" font-weight="normal" text-anchor="end" fill="#1a1a1a" stroke="#1a1a1a" stroke-width="0.12">0</text>
<text x="39.6" y="436.77142857142854" font-size="11.5" font-weight="normal" text-anchor="end" fill="#1a1a1a" stroke="#1a1a1a" stroke-width="0.12">-10</text>
<text x="39.6" y="465.34285714285716" font-size="11.5" font-weight="normal" text-anchor="end" fill="#1a1a1a" stroke="#1a1a1a" stroke-width="0.12">-20</text>
<text x="39.6" y="493.9142857142857" font-size="11.5" font-weight="normal" text-anchor="end" fill="#1a1a1a" stroke="#1a1a1a" stroke-width="0.12">-30</text>
<text x="261.3" y="308.2" font-size="11.5" font-weight="normal" text-anchor="start" fill="#1a1a1a" stroke="#1a1a1a" stroke-width="0.12">1.2</text>
<text x="261.3" y="341.5333333333333" font-size="11.5" font-weight="normal" text-anchor="start" fill="#1a1a1a" stroke="#1a1a1a" stroke-width="0.12">0.8</text>
<text x="261.3" y="374.8666666666667" font-size="11.5" font-weight="normal" text-anchor="start" fill="#1a1a1a" stroke="#1a1a1a" stroke-width="0.12">0.4</text>
<text x="261.3" y="408.2" font-size="11.5" font-weight="normal" text-anchor="start" fill="#1a1a1a" stroke="#1a1a1a" stroke-width="0.12">0</text>
<text x="261.3" y="441.5333333333333" font-size="11.5" font-weight="normal" text-anchor="start" fill="#1a1a1a" stroke="#1a1a1a" stroke-width="0.12">-0.4</text>
<text x="261.3" y="474.8666666666667" font-size="11.5" font-weight="normal" text-anchor="start" fill="#1a1a1a" stroke="#1a1a1a" stroke-width="0.12">-0.8</text>
<text x="261.3" y="508.2" font-size="11.5" font-weight="normal" text-anchor="start" fill="#1a1a1a" stroke="#1a1a1a" stroke-width="0.12">-1.2</text>
<text x="45.7" y="526.1" font-size="11.5" font-weight="normal" text-anchor="middle" fill="#1a1a1a" stroke="#1a1a1a" stroke-width="0.12">200</text>
<text x="80.83333333333334" y="526.1" font-size="11.5" font-weight="normal" text-anchor="middle" fill="#1a1a1a" stroke="#1a1a1a" stroke-width="0.12">300</text>
<text x="115.96666666666667" y="526.1" font-size="11.5" font-weight="normal" text-anchor="middle" fill="#1a1a1a" stroke="#1a1a1a" stroke-width="0.12">400</text>
<text x="151.10000000000002" y="526.1" font-size="11.5" font-weight="normal" text-anchor="middle" fill="#1a1a1a" stroke="#1a1a1a" stroke-width="0.12">500</text>
<text x="186.23333333333335" y="526.1" font-size="11.5" font-weight="normal" text-anchor="middle" fill="#1a1a1a" stroke="#1a1a1a" stroke-width="0.12">600</text>
<text x="221.36666666666667" y="526.1" font-size="11.5" font-weight="normal" text-anchor="middle" fill="#1a1a1a" stroke="#1a1a1a" stroke-width="0.12">700</text>
<text x="256.5" y="526.1" font-size="11.5" font-weight="normal" text-anchor="middle" fill="#1a1a1a" stroke="#1a1a1a" stroke-width="0.12">800</text>
<text x="152.5" y="541" font-size="10" font-weight="bold" text-anchor="middle" fill="#1a1a1a" stroke="#1a1a1a" stroke-width="0.3">Wavelength / nm</text>
<text x="0" y="0" font-size="10.3" font-weight="bold" text-anchor="middle" fill="#1a1a1a" transform="translate(21.2 407.2) rotate(-90) scale(1 0.9)" stroke="#1a1a1a" stroke-width="0.3">CD / millidegrees</text>
<text x="0" y="0" font-size="10.5" font-weight="bold" text-anchor="middle" fill="#1a1a1a" transform="translate(281.3 403.2) rotate(90) scale(1 0.9)" stroke="#1a1a1a" stroke-width="0.3">Absorbance</text>
<text x="97.9" y="352.6" font-size="7.8" font-weight="bold" text-anchor="start" fill="#1a1a1a" stroke="#1a1a1a" stroke-width="0.3">DNA</text>
<path d="M100 341 C99 336 96 331 91 330" fill="none" stroke="#111" stroke-width="1.6"/>
<path d="M87.5 330 L92.5 326.5 L92.5 333 Z" fill="#111"/>
<rect x="310.3" y="26.6" width="126.2" height="198.8" fill="none" stroke="#2a2a2a" stroke-width="1.85" stroke-linecap="round" stroke-dasharray="0 5.85"/>
<rect x="318.3" y="32.5" width="50" height="11" fill="none" stroke="#2a2a2a" stroke-width="1.65" stroke-linecap="round" stroke-dasharray="0 5.87"/>
<text x="317.8" y="41.6" font-size="8.6" font-weight="bold" text-anchor="start" fill="#1a1a1a" stroke="#1a1a1a" stroke-width="0.3">CD Legend:</text>
<path d="M317.3 52.60 H341.3" stroke="#ff44ff" stroke-width="1.9"/>
<text x="348.2" y="55.7" font-size="8.8" font-weight="bold" text-anchor="start" fill="#1a1a1a" stroke="#1a1a1a" stroke-width="0.3">4 + 38 &#956;M bp DNA</text>
<path d="M317.3 68.60 H341.3" stroke="#ff3322" stroke-width="1.9"/>
<text x="348.2" y="71.69999999999999" font-size="8.8" font-weight="bold" text-anchor="start" fill="#1a1a1a" stroke="#1a1a1a" stroke-width="0.3">4 + 260 &#956;M bp DNA</text>
<path d="M317.3 83.50 H341.3" stroke="#22dd22" stroke-width="1.9"/>
<text x="348.2" y="86.6" font-size="8.8" font-weight="bold" text-anchor="start" fill="#1a1a1a" stroke="#1a1a1a" stroke-width="0.3">4 + 520 &#956;M bp DNA</text>
<path d="M317.3 98.40 H341.3" stroke="#22e6f0" stroke-width="1.9"/>
<text x="348.2" y="101.5" font-size="8.8" font-weight="bold" text-anchor="start" fill="#1a1a1a" stroke="#1a1a1a" stroke-width="0.3">4 + 1117 &#956;M bp DNA</text>
<path d="M317.3 113.10 H341.3" stroke="#111" stroke-width="1.9"/>
<text x="348.2" y="116.19999999999999" font-size="8.8" font-weight="bold" text-anchor="start" fill="#1a1a1a" stroke="#1a1a1a" stroke-width="0.3">260 &#956;M bp DNA</text>
<path d="M317.3 128.00 H341.3" stroke="#ff8a1a" stroke-width="1.9"/>
<text x="348.2" y="131.1" font-size="8.8" font-weight="bold" text-anchor="start" fill="#1a1a1a" stroke="#1a1a1a" stroke-width="0.3">4</text>
<path d="M317.5 139.60 H433" stroke="#222" stroke-width="1.8" stroke-dasharray="3.9 1.95"/>
<rect x="318.1" y="146.8" width="55.9" height="10.6" fill="none" stroke="#2a2a2a" stroke-width="1.65" stroke-linecap="round" stroke-dasharray="0 5.87"/>
<text x="318.2" y="156.2" font-size="8.6" font-weight="bold" text-anchor="start" fill="#1a1a1a" stroke="#1a1a1a" stroke-width="0.3">Abs. Legend:</text>
<path d="M317 167.70 H341" stroke="#9a9a9a" stroke-width="1.6"/>
<path d="M329.2 163.50 l4.2 4.2 l-4.2 4.2 l-4.2 -4.2 Z" fill="#ff44ff"/>
<text x="345.6" y="170.79999999999998" font-size="8.8" font-weight="bold" text-anchor="start" fill="#1a1a1a" stroke="#1a1a1a" stroke-width="0.3">4 + 54 &#956;M bp DNA</text>
<path d="M317 183.60 H341" stroke="#9a9a9a" stroke-width="1.6"/>
<path d="M329.2 179.40 l4.2 4.2 l-4.2 4.2 l-4.2 -4.2 Z" fill="#ff2a1a"/>
<text x="345.6" y="186.7" font-size="8.8" font-weight="bold" text-anchor="start" fill="#1a1a1a" stroke="#1a1a1a" stroke-width="0.3">4 + 260 &#956;M bp DNA</text>
<path d="M317 199.30 H341" stroke="#9a9a9a" stroke-width="1.6"/>
<path d="M329.2 195.10 l4.2 4.2 l-4.2 4.2 l-4.2 -4.2 Z" fill="#22dd22"/>
<text x="345.6" y="202.4" font-size="8.8" font-weight="bold" text-anchor="start" fill="#1a1a1a" stroke="#1a1a1a" stroke-width="0.3">4 + 546 &#956;M bp DNA</text>
<path d="M317 213.80 H341" stroke="#9a9a9a" stroke-width="1.6"/>
<path d="M329.2 209.60 l4.2 4.2 l-4.2 4.2 l-4.2 -4.2 Z" fill="#33eeee"/>
<text x="345.6" y="216.9" font-size="8.8" font-weight="bold" text-anchor="start" fill="#1a1a1a" stroke="#1a1a1a" stroke-width="0.3">4 + 1117 &#956;M bp DNA</text>
<rect x="310.3" y="299.70000000000005" width="126.2" height="198.8" fill="none" stroke="#2a2a2a" stroke-width="1.85" stroke-linecap="round" stroke-dasharray="0 5.85"/>
<rect x="318.3" y="305.6" width="50" height="11" fill="none" stroke="#2a2a2a" stroke-width="1.65" stroke-linecap="round" stroke-dasharray="0 5.87"/>
<text x="317.8" y="314.70000000000005" font-size="8.6" font-weight="bold" text-anchor="start" fill="#1a1a1a" stroke="#1a1a1a" stroke-width="0.3">CD Legend:</text>
<path d="M317.3 325.70 H341.3" stroke="#ff44ff" stroke-width="1.9"/>
<text x="348.2" y="328.80000000000007" font-size="8.8" font-weight="bold" text-anchor="start" fill="#1a1a1a" stroke="#1a1a1a" stroke-width="0.3">4 + 38 &#956;M bp DNA</text>
<path d="M317.3 341.70 H341.3" stroke="#ff3322" stroke-width="1.9"/>
<text x="348.2" y="344.80000000000007" font-size="8.8" font-weight="bold" text-anchor="start" fill="#1a1a1a" stroke="#1a1a1a" stroke-width="0.3">4 + 260 &#956;M bp DNA</text>
<path d="M317.3 356.60 H341.3" stroke="#22dd22" stroke-width="1.9"/>
<text x="348.2" y="359.70000000000005" font-size="8.8" font-weight="bold" text-anchor="start" fill="#1a1a1a" stroke="#1a1a1a" stroke-width="0.3">4 + 520 &#956;M bp DNA</text>
<path d="M317.3 371.50 H341.3" stroke="#22e6f0" stroke-width="1.9"/>
<text x="348.2" y="374.6" font-size="8.8" font-weight="bold" text-anchor="start" fill="#1a1a1a" stroke="#1a1a1a" stroke-width="0.3">4 + 1117 &#956;M bp DNA</text>
<path d="M317.3 386.20 H341.3" stroke="#111" stroke-width="1.9"/>
<text x="348.2" y="389.30000000000007" font-size="8.8" font-weight="bold" text-anchor="start" fill="#1a1a1a" stroke="#1a1a1a" stroke-width="0.3">260 &#956;M bp DNA</text>
<path d="M317.3 401.10 H341.3" stroke="#ff8a1a" stroke-width="1.9"/>
<text x="348.2" y="404.20000000000005" font-size="8.8" font-weight="bold" text-anchor="start" fill="#1a1a1a" stroke="#1a1a1a" stroke-width="0.3">4</text>
<path d="M317.5 412.70 H433" stroke="#222" stroke-width="1.8" stroke-dasharray="3.9 1.95"/>
<rect x="318.1" y="419.90000000000003" width="55.9" height="10.6" fill="none" stroke="#2a2a2a" stroke-width="1.65" stroke-linecap="round" stroke-dasharray="0 5.87"/>
<text x="318.2" y="429.3" font-size="8.6" font-weight="bold" text-anchor="start" fill="#1a1a1a" stroke="#1a1a1a" stroke-width="0.3">Abs. Legend:</text>
<path d="M317 440.80 H341" stroke="#9a9a9a" stroke-width="1.6"/>
<path d="M329.2 436.60 l4.2 4.2 l-4.2 4.2 l-4.2 -4.2 Z" fill="#ff44ff"/>
<text x="345.6" y="443.90000000000003" font-size="8.8" font-weight="bold" text-anchor="start" fill="#1a1a1a" stroke="#1a1a1a" stroke-width="0.3">4 + 54 &#956;M bp DNA</text>
<path d="M317 456.70 H341" stroke="#9a9a9a" stroke-width="1.6"/>
<path d="M329.2 452.50 l4.2 4.2 l-4.2 4.2 l-4.2 -4.2 Z" fill="#ff2a1a"/>
<text x="345.6" y="459.80000000000007" font-size="8.8" font-weight="bold" text-anchor="start" fill="#1a1a1a" stroke="#1a1a1a" stroke-width="0.3">4 + 260 &#956;M bp DNA</text>
<path d="M317 472.40 H341" stroke="#9a9a9a" stroke-width="1.6"/>
<path d="M329.2 468.20 l4.2 4.2 l-4.2 4.2 l-4.2 -4.2 Z" fill="#22dd22"/>
<text x="345.6" y="475.50000000000006" font-size="8.8" font-weight="bold" text-anchor="start" fill="#1a1a1a" stroke="#1a1a1a" stroke-width="0.3">4 + 546 &#956;M bp DNA</text>
<path d="M317 486.90 H341" stroke="#9a9a9a" stroke-width="1.6"/>
<path d="M329.2 482.70 l4.2 4.2 l-4.2 4.2 l-4.2 -4.2 Z" fill="#33eeee"/>
<text x="345.6" y="490.00000000000006" font-size="8.8" font-weight="bold" text-anchor="start" fill="#1a1a1a" stroke="#1a1a1a" stroke-width="0.3">4 + 1117 &#956;M bp DNA</text>
</svg></body></html>
